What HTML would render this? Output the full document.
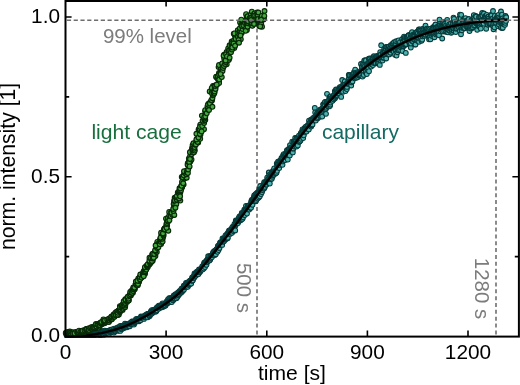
<!DOCTYPE html>
<html><head><meta charset="utf-8"><style>
html,body{margin:0;padding:0;background:#fff;}
body{width:520px;height:385px;overflow:hidden;}
svg{display:block;}
text{font-family:"Liberation Sans",Arial,sans-serif;}
</style></head><body>
<svg width="520" height="385" viewBox="0 0 520 385">
<rect width="520" height="385" fill="#fff"/>
<g stroke="#6e6e6e" stroke-width="1.6" stroke-dasharray="4 2.86" fill="none">
<path d="M257 28.6V336"/>
<path d="M496 28.6V336"/>
</g>
<g fill="#4cb5b2" stroke="#063a3a" stroke-width="1.05"><circle cx="66.5" cy="335" r="2.4"/><circle cx="66.8" cy="335" r="2.4"/><circle cx="67" cy="335" r="2.4"/><circle cx="67.2" cy="335" r="2.4"/><circle cx="67.5" cy="335" r="2.4"/><circle cx="67.8" cy="335" r="2.4"/><circle cx="68" cy="335" r="2.4"/><circle cx="68.2" cy="335" r="2.4"/><circle cx="68.5" cy="335" r="2.4"/><circle cx="68.8" cy="335" r="2.4"/><circle cx="69" cy="334.8" r="2.4"/><circle cx="69.2" cy="335" r="2.4"/><circle cx="69.5" cy="335" r="2.4"/><circle cx="69.8" cy="335" r="2.4"/><circle cx="70" cy="335" r="2.4"/><circle cx="70.2" cy="335" r="2.4"/><circle cx="70.5" cy="335" r="2.4"/><circle cx="70.8" cy="335" r="2.4"/><circle cx="71" cy="335" r="2.4"/><circle cx="71.2" cy="335" r="2.4"/><circle cx="71.5" cy="335" r="2.4"/><circle cx="71.8" cy="335" r="2.4"/><circle cx="72" cy="335" r="2.4"/><circle cx="72.2" cy="335" r="2.4"/><circle cx="72.5" cy="335" r="2.4"/><circle cx="72.8" cy="335" r="2.4"/><circle cx="73" cy="335" r="2.4"/><circle cx="73.2" cy="335" r="2.4"/><circle cx="73.5" cy="334.9" r="2.4"/><circle cx="73.8" cy="335" r="2.4"/><circle cx="74" cy="335" r="2.4"/><circle cx="74.2" cy="334.4" r="2.4"/><circle cx="74.5" cy="334.9" r="2.4"/><circle cx="74.8" cy="334.6" r="2.4"/><circle cx="75" cy="335" r="2.4"/><circle cx="75.2" cy="335" r="2.4"/><circle cx="75.5" cy="335" r="2.4"/><circle cx="75.8" cy="334.7" r="2.4"/><circle cx="76" cy="335" r="2.4"/><circle cx="76.2" cy="335" r="2.4"/><circle cx="76.5" cy="335" r="2.4"/><circle cx="76.8" cy="335" r="2.4"/><circle cx="77" cy="335" r="2.4"/><circle cx="77.2" cy="335" r="2.4"/><circle cx="77.5" cy="334.9" r="2.4"/><circle cx="77.8" cy="334.7" r="2.4"/><circle cx="78" cy="335" r="2.4"/><circle cx="78.2" cy="335" r="2.4"/><circle cx="78.5" cy="334.6" r="2.4"/><circle cx="78.8" cy="335" r="2.4"/><circle cx="79" cy="335" r="2.4"/><circle cx="79.2" cy="335" r="2.4"/><circle cx="79.5" cy="335" r="2.4"/><circle cx="79.8" cy="335" r="2.4"/><circle cx="80" cy="335" r="2.4"/><circle cx="80.2" cy="334.2" r="2.4"/><circle cx="80.5" cy="335" r="2.4"/><circle cx="80.8" cy="335" r="2.4"/><circle cx="81" cy="335" r="2.4"/><circle cx="81.2" cy="333.8" r="2.4"/><circle cx="81.5" cy="335" r="2.4"/><circle cx="81.8" cy="335" r="2.4"/><circle cx="82" cy="335" r="2.4"/><circle cx="82.2" cy="333.6" r="2.4"/><circle cx="82.5" cy="335" r="2.4"/><circle cx="82.8" cy="334.6" r="2.4"/><circle cx="83" cy="335" r="2.4"/><circle cx="83.2" cy="335" r="2.4"/><circle cx="83.5" cy="335" r="2.4"/><circle cx="83.8" cy="335" r="2.4"/><circle cx="84" cy="334.4" r="2.4"/><circle cx="84.2" cy="335" r="2.4"/><circle cx="84.5" cy="334.8" r="2.4"/><circle cx="84.8" cy="333.1" r="2.4"/><circle cx="85" cy="335" r="2.4"/><circle cx="85.2" cy="335" r="2.4"/><circle cx="85.5" cy="335" r="2.4"/><circle cx="85.8" cy="334.5" r="2.4"/><circle cx="86" cy="335" r="2.4"/><circle cx="86.2" cy="335" r="2.4"/><circle cx="86.5" cy="335" r="2.4"/><circle cx="86.8" cy="335" r="2.4"/><circle cx="87" cy="334.1" r="2.4"/><circle cx="87.2" cy="335" r="2.4"/><circle cx="87.5" cy="333.1" r="2.4"/><circle cx="87.8" cy="333.6" r="2.4"/><circle cx="88" cy="335" r="2.4"/><circle cx="88.2" cy="334.2" r="2.4"/><circle cx="88.5" cy="334.9" r="2.4"/><circle cx="88.8" cy="334.9" r="2.4"/><circle cx="89" cy="335" r="2.4"/><circle cx="89.2" cy="335" r="2.4"/><circle cx="89.5" cy="334.9" r="2.4"/><circle cx="89.8" cy="335" r="2.4"/><circle cx="90" cy="334.2" r="2.4"/><circle cx="90.2" cy="334.5" r="2.4"/><circle cx="90.5" cy="335" r="2.4"/><circle cx="90.8" cy="333.6" r="2.4"/><circle cx="91" cy="334.5" r="2.4"/><circle cx="91.2" cy="333.5" r="2.4"/><circle cx="91.5" cy="334.8" r="2.4"/><circle cx="91.8" cy="335" r="2.4"/><circle cx="92" cy="333.9" r="2.4"/><circle cx="92.2" cy="334.8" r="2.4"/><circle cx="92.5" cy="333.7" r="2.4"/><circle cx="92.8" cy="333.5" r="2.4"/><circle cx="93" cy="333.3" r="2.4"/><circle cx="93.2" cy="335" r="2.4"/><circle cx="93.5" cy="335" r="2.4"/><circle cx="93.8" cy="334.8" r="2.4"/><circle cx="94" cy="333.7" r="2.4"/><circle cx="94.2" cy="335" r="2.4"/><circle cx="94.5" cy="334" r="2.4"/><circle cx="94.8" cy="335" r="2.4"/><circle cx="95" cy="334.5" r="2.4"/><circle cx="95.2" cy="334.4" r="2.4"/><circle cx="95.5" cy="334.7" r="2.4"/><circle cx="95.8" cy="333.5" r="2.4"/><circle cx="96" cy="333.7" r="2.4"/><circle cx="96.2" cy="332.4" r="2.4"/><circle cx="96.5" cy="333.6" r="2.4"/><circle cx="96.8" cy="332.6" r="2.4"/><circle cx="97" cy="333.7" r="2.4"/><circle cx="97.2" cy="332.9" r="2.4"/><circle cx="97.5" cy="333.9" r="2.4"/><circle cx="97.8" cy="334.2" r="2.4"/><circle cx="98" cy="332.4" r="2.4"/><circle cx="98.2" cy="332.9" r="2.4"/><circle cx="98.5" cy="332.7" r="2.4"/><circle cx="98.8" cy="334.3" r="2.4"/><circle cx="99" cy="335" r="2.4"/><circle cx="99.2" cy="334.3" r="2.4"/><circle cx="99.5" cy="333.1" r="2.4"/><circle cx="99.8" cy="334.8" r="2.4"/><circle cx="100" cy="331.9" r="2.4"/><circle cx="100.2" cy="334.7" r="2.4"/><circle cx="100.5" cy="332.6" r="2.4"/><circle cx="100.8" cy="330.6" r="2.4"/><circle cx="101" cy="335" r="2.4"/><circle cx="101.2" cy="334.6" r="2.4"/><circle cx="101.5" cy="332.1" r="2.4"/><circle cx="101.8" cy="333.2" r="2.4"/><circle cx="102" cy="332.8" r="2.4"/><circle cx="102.2" cy="333" r="2.4"/><circle cx="102.5" cy="331.5" r="2.4"/><circle cx="102.8" cy="332.2" r="2.4"/><circle cx="103" cy="333.2" r="2.4"/><circle cx="103.2" cy="332.9" r="2.4"/><circle cx="103.5" cy="333.8" r="2.4"/><circle cx="103.8" cy="332.7" r="2.4"/><circle cx="104" cy="334.7" r="2.4"/><circle cx="104.2" cy="331.8" r="2.4"/><circle cx="104.5" cy="332.7" r="2.4"/><circle cx="104.8" cy="330.6" r="2.4"/><circle cx="105" cy="331.1" r="2.4"/><circle cx="105.2" cy="333.5" r="2.4"/><circle cx="105.5" cy="331.3" r="2.4"/><circle cx="105.8" cy="332.7" r="2.4"/><circle cx="106" cy="332" r="2.4"/><circle cx="106.2" cy="331.1" r="2.4"/><circle cx="106.5" cy="331.7" r="2.4"/><circle cx="106.8" cy="331.4" r="2.4"/><circle cx="107" cy="331.4" r="2.4"/><circle cx="107.2" cy="332.5" r="2.4"/><circle cx="107.5" cy="332.4" r="2.4"/><circle cx="107.8" cy="331.1" r="2.4"/><circle cx="108" cy="330.8" r="2.4"/><circle cx="108.2" cy="331.8" r="2.4"/><circle cx="108.5" cy="331.4" r="2.4"/><circle cx="108.8" cy="332.4" r="2.4"/><circle cx="109" cy="333.9" r="2.4"/><circle cx="109.2" cy="332.1" r="2.4"/><circle cx="109.5" cy="331.2" r="2.4"/><circle cx="109.8" cy="331" r="2.4"/><circle cx="110" cy="330.3" r="2.4"/><circle cx="110.2" cy="330.2" r="2.4"/><circle cx="110.5" cy="330" r="2.4"/><circle cx="110.8" cy="330.5" r="2.4"/><circle cx="111" cy="330.4" r="2.4"/><circle cx="111.2" cy="331.5" r="2.4"/><circle cx="111.5" cy="330.3" r="2.4"/><circle cx="111.8" cy="330.4" r="2.4"/><circle cx="112" cy="329.4" r="2.4"/><circle cx="112.2" cy="332.1" r="2.4"/><circle cx="112.5" cy="330.9" r="2.4"/><circle cx="112.8" cy="332.1" r="2.4"/><circle cx="113" cy="331" r="2.4"/><circle cx="113.2" cy="331.6" r="2.4"/><circle cx="113.5" cy="329.9" r="2.4"/><circle cx="113.8" cy="330.7" r="2.4"/><circle cx="114" cy="332.6" r="2.4"/><circle cx="114.2" cy="328.7" r="2.4"/><circle cx="114.5" cy="331" r="2.4"/><circle cx="114.8" cy="331.4" r="2.4"/><circle cx="115" cy="330.1" r="2.4"/><circle cx="115.2" cy="330.3" r="2.4"/><circle cx="115.5" cy="330.8" r="2.4"/><circle cx="115.8" cy="328.8" r="2.4"/><circle cx="116" cy="329.8" r="2.4"/><circle cx="116.2" cy="328.4" r="2.4"/><circle cx="116.5" cy="328.5" r="2.4"/><circle cx="116.8" cy="328.5" r="2.4"/><circle cx="117" cy="328.9" r="2.4"/><circle cx="117.2" cy="329.1" r="2.4"/><circle cx="117.5" cy="329.3" r="2.4"/><circle cx="117.8" cy="327.4" r="2.4"/><circle cx="118" cy="330.7" r="2.4"/><circle cx="118.2" cy="329.8" r="2.4"/><circle cx="118.5" cy="329.3" r="2.4"/><circle cx="118.8" cy="328.1" r="2.4"/><circle cx="119" cy="328.3" r="2.4"/><circle cx="119.2" cy="328.9" r="2.4"/><circle cx="119.5" cy="328.6" r="2.4"/><circle cx="119.8" cy="326.5" r="2.4"/><circle cx="120" cy="328.8" r="2.4"/><circle cx="120.2" cy="330.9" r="2.4"/><circle cx="120.5" cy="326" r="2.4"/><circle cx="120.8" cy="328.8" r="2.4"/><circle cx="121" cy="328.1" r="2.4"/><circle cx="121.2" cy="327.5" r="2.4"/><circle cx="121.5" cy="328.9" r="2.4"/><circle cx="121.8" cy="326.2" r="2.4"/><circle cx="122" cy="327.5" r="2.4"/><circle cx="122.2" cy="328.7" r="2.4"/><circle cx="122.5" cy="326.9" r="2.4"/><circle cx="122.8" cy="326.6" r="2.4"/><circle cx="123" cy="327.1" r="2.4"/><circle cx="123.2" cy="326.4" r="2.4"/><circle cx="123.5" cy="328.3" r="2.4"/><circle cx="123.8" cy="325.8" r="2.4"/><circle cx="124" cy="327.5" r="2.4"/><circle cx="124.2" cy="325.2" r="2.4"/><circle cx="124.5" cy="327.1" r="2.4"/><circle cx="124.8" cy="326.2" r="2.4"/><circle cx="125" cy="323.6" r="2.4"/><circle cx="125.2" cy="326.1" r="2.4"/><circle cx="125.5" cy="324.9" r="2.4"/><circle cx="125.8" cy="325.4" r="2.4"/><circle cx="126" cy="327.4" r="2.4"/><circle cx="126.2" cy="324.5" r="2.4"/><circle cx="126.5" cy="324.5" r="2.4"/><circle cx="126.8" cy="327" r="2.4"/><circle cx="127" cy="325.5" r="2.4"/><circle cx="127.2" cy="326.9" r="2.4"/><circle cx="127.5" cy="325.5" r="2.4"/><circle cx="127.8" cy="324.2" r="2.4"/><circle cx="128" cy="324.9" r="2.4"/><circle cx="128.2" cy="326.1" r="2.4"/><circle cx="128.5" cy="325.7" r="2.4"/><circle cx="128.8" cy="324.7" r="2.4"/><circle cx="129" cy="324.6" r="2.4"/><circle cx="129.2" cy="324.3" r="2.4"/><circle cx="129.5" cy="323.7" r="2.4"/><circle cx="129.8" cy="326.2" r="2.4"/><circle cx="130" cy="324.1" r="2.4"/><circle cx="130.2" cy="322.8" r="2.4"/><circle cx="130.5" cy="323.4" r="2.4"/><circle cx="130.8" cy="324.5" r="2.4"/><circle cx="131" cy="324.3" r="2.4"/><circle cx="131.2" cy="323.4" r="2.4"/><circle cx="131.5" cy="322.7" r="2.4"/><circle cx="131.8" cy="323.3" r="2.4"/><circle cx="132" cy="321.5" r="2.4"/><circle cx="132.2" cy="321.7" r="2.4"/><circle cx="132.5" cy="323.8" r="2.4"/><circle cx="132.8" cy="322.4" r="2.4"/><circle cx="133" cy="323.1" r="2.4"/><circle cx="133.2" cy="323.9" r="2.4"/><circle cx="133.5" cy="323.2" r="2.4"/><circle cx="133.8" cy="322.4" r="2.4"/><circle cx="134" cy="324.5" r="2.4"/><circle cx="134.2" cy="322.9" r="2.4"/><circle cx="134.5" cy="321.7" r="2.4"/><circle cx="134.8" cy="322.7" r="2.4"/><circle cx="135" cy="322.2" r="2.4"/><circle cx="135.2" cy="320.8" r="2.4"/><circle cx="135.5" cy="321.6" r="2.4"/><circle cx="135.8" cy="321.2" r="2.4"/><circle cx="136" cy="319.2" r="2.4"/><circle cx="136.2" cy="321" r="2.4"/><circle cx="136.5" cy="320.7" r="2.4"/><circle cx="136.8" cy="320.5" r="2.4"/><circle cx="137" cy="319" r="2.4"/><circle cx="137.2" cy="320.3" r="2.4"/><circle cx="137.5" cy="320.5" r="2.4"/><circle cx="137.8" cy="320.5" r="2.4"/><circle cx="138" cy="319.1" r="2.4"/><circle cx="138.2" cy="320.8" r="2.4"/><circle cx="138.5" cy="318.7" r="2.4"/><circle cx="138.8" cy="319.7" r="2.4"/><circle cx="139" cy="321.2" r="2.4"/><circle cx="139.2" cy="318.9" r="2.4"/><circle cx="139.5" cy="319" r="2.4"/><circle cx="139.8" cy="320.5" r="2.4"/><circle cx="140" cy="318.8" r="2.4"/><circle cx="140.2" cy="318.8" r="2.4"/><circle cx="140.5" cy="319.2" r="2.4"/><circle cx="140.8" cy="320" r="2.4"/><circle cx="141" cy="316.3" r="2.4"/><circle cx="141.2" cy="317.7" r="2.4"/><circle cx="141.5" cy="317.3" r="2.4"/><circle cx="141.8" cy="317.1" r="2.4"/><circle cx="142" cy="317.2" r="2.4"/><circle cx="142.2" cy="317.1" r="2.4"/><circle cx="142.5" cy="318.2" r="2.4"/><circle cx="142.8" cy="316.8" r="2.4"/><circle cx="143" cy="317.8" r="2.4"/><circle cx="143.2" cy="317.9" r="2.4"/><circle cx="143.5" cy="316.5" r="2.4"/><circle cx="143.8" cy="317.4" r="2.4"/><circle cx="144" cy="318.9" r="2.4"/><circle cx="144.2" cy="317.3" r="2.4"/><circle cx="144.5" cy="316.1" r="2.4"/><circle cx="144.8" cy="316.6" r="2.4"/><circle cx="145" cy="315.5" r="2.4"/><circle cx="145.2" cy="316.7" r="2.4"/><circle cx="145.5" cy="317.2" r="2.4"/><circle cx="145.8" cy="315.2" r="2.4"/><circle cx="146" cy="315.7" r="2.4"/><circle cx="146.2" cy="317" r="2.4"/><circle cx="146.5" cy="315.1" r="2.4"/><circle cx="146.8" cy="315.7" r="2.4"/><circle cx="147" cy="314.2" r="2.4"/><circle cx="147.2" cy="314.3" r="2.4"/><circle cx="147.5" cy="314.5" r="2.4"/><circle cx="147.8" cy="317.3" r="2.4"/><circle cx="148" cy="314.3" r="2.4"/><circle cx="148.2" cy="314" r="2.4"/><circle cx="148.5" cy="313.9" r="2.4"/><circle cx="148.8" cy="314.1" r="2.4"/><circle cx="149" cy="314.9" r="2.4"/><circle cx="149.2" cy="314.2" r="2.4"/><circle cx="149.5" cy="316.2" r="2.4"/><circle cx="149.8" cy="314" r="2.4"/><circle cx="150" cy="315.2" r="2.4"/><circle cx="150.2" cy="313.7" r="2.4"/><circle cx="150.5" cy="314" r="2.4"/><circle cx="150.8" cy="311.5" r="2.4"/><circle cx="151" cy="312.8" r="2.4"/><circle cx="151.2" cy="312.8" r="2.4"/><circle cx="151.5" cy="312.4" r="2.4"/><circle cx="151.8" cy="310.1" r="2.4"/><circle cx="152" cy="313.4" r="2.4"/><circle cx="152.2" cy="311.8" r="2.4"/><circle cx="152.5" cy="311.6" r="2.4"/><circle cx="152.8" cy="311.6" r="2.4"/><circle cx="153" cy="311.5" r="2.4"/><circle cx="153.2" cy="312.1" r="2.4"/><circle cx="153.5" cy="310" r="2.4"/><circle cx="153.8" cy="310.3" r="2.4"/><circle cx="154" cy="311.5" r="2.4"/><circle cx="154.2" cy="311.2" r="2.4"/><circle cx="154.5" cy="310.4" r="2.4"/><circle cx="154.8" cy="310" r="2.4"/><circle cx="155" cy="309.6" r="2.4"/><circle cx="155.2" cy="310.3" r="2.4"/><circle cx="155.5" cy="311.6" r="2.4"/><circle cx="155.8" cy="308.9" r="2.4"/><circle cx="156" cy="311.6" r="2.4"/><circle cx="156.2" cy="310.7" r="2.4"/><circle cx="156.5" cy="309.1" r="2.4"/><circle cx="156.8" cy="310.3" r="2.4"/><circle cx="157" cy="307.6" r="2.4"/><circle cx="157.2" cy="307.1" r="2.4"/><circle cx="157.5" cy="307.5" r="2.4"/><circle cx="157.8" cy="308.3" r="2.4"/><circle cx="158" cy="308.3" r="2.4"/><circle cx="158.2" cy="307.9" r="2.4"/><circle cx="158.5" cy="308.4" r="2.4"/><circle cx="158.8" cy="305.7" r="2.4"/><circle cx="159" cy="308.6" r="2.4"/><circle cx="159.2" cy="306.2" r="2.4"/><circle cx="159.5" cy="306.9" r="2.4"/><circle cx="159.8" cy="307" r="2.4"/><circle cx="160" cy="306" r="2.4"/><circle cx="160.2" cy="305.6" r="2.4"/><circle cx="160.5" cy="305.9" r="2.4"/><circle cx="160.8" cy="306.9" r="2.4"/><circle cx="161" cy="307.4" r="2.4"/><circle cx="161.2" cy="307.2" r="2.4"/><circle cx="161.5" cy="305.2" r="2.4"/><circle cx="161.8" cy="305.3" r="2.4"/><circle cx="162" cy="305" r="2.4"/><circle cx="162.2" cy="306.4" r="2.4"/><circle cx="162.5" cy="303.3" r="2.4"/><circle cx="162.8" cy="307" r="2.4"/><circle cx="163" cy="304.8" r="2.4"/><circle cx="163.2" cy="304.3" r="2.4"/><circle cx="163.5" cy="305.5" r="2.4"/><circle cx="163.8" cy="306.1" r="2.4"/><circle cx="164" cy="305.1" r="2.4"/><circle cx="164.2" cy="305.8" r="2.4"/><circle cx="164.5" cy="304.6" r="2.4"/><circle cx="164.8" cy="305.7" r="2.4"/><circle cx="165" cy="305.5" r="2.4"/><circle cx="165.2" cy="303.8" r="2.4"/><circle cx="165.5" cy="305.4" r="2.4"/><circle cx="165.8" cy="303.7" r="2.4"/><circle cx="166" cy="303.5" r="2.4"/><circle cx="166.2" cy="302.1" r="2.4"/><circle cx="166.5" cy="302.7" r="2.4"/><circle cx="166.8" cy="303.8" r="2.4"/><circle cx="167" cy="301.1" r="2.4"/><circle cx="167.2" cy="303.3" r="2.4"/><circle cx="167.5" cy="302.7" r="2.4"/><circle cx="167.8" cy="302.5" r="2.4"/><circle cx="168" cy="299.3" r="2.4"/><circle cx="168.2" cy="301.7" r="2.4"/><circle cx="168.5" cy="302.4" r="2.4"/><circle cx="168.8" cy="300.5" r="2.4"/><circle cx="169" cy="301.4" r="2.4"/><circle cx="169.2" cy="298.2" r="2.4"/><circle cx="169.5" cy="301.7" r="2.4"/><circle cx="169.8" cy="299.9" r="2.4"/><circle cx="170" cy="301.6" r="2.4"/><circle cx="170.2" cy="298.1" r="2.4"/><circle cx="170.5" cy="301" r="2.4"/><circle cx="170.8" cy="299.7" r="2.4"/><circle cx="171" cy="300.8" r="2.4"/><circle cx="171.2" cy="298.4" r="2.4"/><circle cx="171.5" cy="298.6" r="2.4"/><circle cx="171.8" cy="302" r="2.4"/><circle cx="172" cy="298" r="2.4"/><circle cx="172.2" cy="297.9" r="2.4"/><circle cx="172.5" cy="298.3" r="2.4"/><circle cx="172.8" cy="297.1" r="2.4"/><circle cx="173" cy="299.7" r="2.4"/><circle cx="173.2" cy="300.2" r="2.4"/><circle cx="173.5" cy="296.9" r="2.4"/><circle cx="173.8" cy="295.5" r="2.4"/><circle cx="174" cy="298.9" r="2.4"/><circle cx="174.2" cy="298.6" r="2.4"/><circle cx="174.5" cy="298" r="2.4"/><circle cx="174.8" cy="298.3" r="2.4"/><circle cx="175" cy="295.5" r="2.4"/><circle cx="175.2" cy="296.2" r="2.4"/><circle cx="175.5" cy="294.4" r="2.4"/><circle cx="175.8" cy="294.2" r="2.4"/><circle cx="176" cy="297" r="2.4"/><circle cx="176.2" cy="294.7" r="2.4"/><circle cx="176.5" cy="298.2" r="2.4"/><circle cx="176.8" cy="295.2" r="2.4"/><circle cx="177" cy="294.1" r="2.4"/><circle cx="177.2" cy="295.7" r="2.4"/><circle cx="177.5" cy="296.8" r="2.4"/><circle cx="177.8" cy="294.9" r="2.4"/><circle cx="178" cy="292.4" r="2.4"/><circle cx="178.2" cy="294.3" r="2.4"/><circle cx="178.5" cy="295.3" r="2.4"/><circle cx="178.8" cy="292.7" r="2.4"/><circle cx="179" cy="292.1" r="2.4"/><circle cx="179.2" cy="294.2" r="2.4"/><circle cx="179.5" cy="292.8" r="2.4"/><circle cx="179.8" cy="291" r="2.4"/><circle cx="180" cy="291.7" r="2.4"/><circle cx="180.2" cy="291" r="2.4"/><circle cx="180.5" cy="292.1" r="2.4"/><circle cx="180.8" cy="291.6" r="2.4"/><circle cx="181" cy="292.7" r="2.4"/><circle cx="181.2" cy="291.9" r="2.4"/><circle cx="181.5" cy="288.7" r="2.4"/><circle cx="181.8" cy="291" r="2.4"/><circle cx="182" cy="291.4" r="2.4"/><circle cx="182.2" cy="290.6" r="2.4"/><circle cx="182.5" cy="291.1" r="2.4"/><circle cx="182.8" cy="288.8" r="2.4"/><circle cx="183" cy="288" r="2.4"/><circle cx="183.2" cy="290.2" r="2.4"/><circle cx="183.5" cy="287.3" r="2.4"/><circle cx="183.8" cy="285.6" r="2.4"/><circle cx="184" cy="289.6" r="2.4"/><circle cx="184.2" cy="287" r="2.4"/><circle cx="184.5" cy="287.3" r="2.4"/><circle cx="184.8" cy="285.6" r="2.4"/><circle cx="185" cy="285.4" r="2.4"/><circle cx="185.2" cy="285.4" r="2.4"/><circle cx="185.5" cy="286.2" r="2.4"/><circle cx="185.8" cy="286.9" r="2.4"/><circle cx="186" cy="283" r="2.4"/><circle cx="186.2" cy="286.9" r="2.4"/><circle cx="186.5" cy="284" r="2.4"/><circle cx="186.8" cy="283.9" r="2.4"/><circle cx="187" cy="286" r="2.4"/><circle cx="187.2" cy="284.7" r="2.4"/><circle cx="187.5" cy="282.4" r="2.4"/><circle cx="187.8" cy="286.8" r="2.4"/><circle cx="188" cy="282.8" r="2.4"/><circle cx="188.2" cy="284" r="2.4"/><circle cx="188.5" cy="283.7" r="2.4"/><circle cx="188.8" cy="285.1" r="2.4"/><circle cx="189" cy="282.2" r="2.4"/><circle cx="189.2" cy="284" r="2.4"/><circle cx="189.5" cy="281.3" r="2.4"/><circle cx="189.8" cy="283.6" r="2.4"/><circle cx="190" cy="280.7" r="2.4"/><circle cx="190.2" cy="280.9" r="2.4"/><circle cx="190.5" cy="283.8" r="2.4"/><circle cx="190.8" cy="281.3" r="2.4"/><circle cx="191" cy="280.7" r="2.4"/><circle cx="191.2" cy="283.5" r="2.4"/><circle cx="191.5" cy="280.5" r="2.4"/><circle cx="191.8" cy="278.6" r="2.4"/><circle cx="192" cy="280.5" r="2.4"/><circle cx="192.2" cy="277.5" r="2.4"/><circle cx="192.5" cy="280.5" r="2.4"/><circle cx="192.8" cy="280.3" r="2.4"/><circle cx="193" cy="277.4" r="2.4"/><circle cx="193.2" cy="277.1" r="2.4"/><circle cx="193.5" cy="277.9" r="2.4"/><circle cx="193.8" cy="277.4" r="2.4"/><circle cx="194" cy="275.7" r="2.4"/><circle cx="194.2" cy="277.6" r="2.4"/><circle cx="194.5" cy="273.5" r="2.4"/><circle cx="194.8" cy="275.6" r="2.4"/><circle cx="195" cy="275.3" r="2.4"/><circle cx="195.2" cy="275.2" r="2.4"/><circle cx="195.5" cy="275.8" r="2.4"/><circle cx="195.8" cy="273.2" r="2.4"/><circle cx="196" cy="275.6" r="2.4"/><circle cx="196.2" cy="274.2" r="2.4"/><circle cx="196.5" cy="273.2" r="2.4"/><circle cx="196.8" cy="271.8" r="2.4"/><circle cx="197" cy="271.8" r="2.4"/><circle cx="197.2" cy="273.7" r="2.4"/><circle cx="197.5" cy="271.5" r="2.4"/><circle cx="197.8" cy="272.7" r="2.4"/><circle cx="198" cy="273.9" r="2.4"/><circle cx="198.2" cy="273.5" r="2.4"/><circle cx="198.5" cy="274" r="2.4"/><circle cx="198.8" cy="271" r="2.4"/><circle cx="199" cy="269.5" r="2.4"/><circle cx="199.2" cy="272.3" r="2.4"/><circle cx="199.5" cy="271" r="2.4"/><circle cx="199.8" cy="271.9" r="2.4"/><circle cx="200" cy="269.9" r="2.4"/><circle cx="200.2" cy="271.4" r="2.4"/><circle cx="200.5" cy="270.6" r="2.4"/><circle cx="200.8" cy="270.1" r="2.4"/><circle cx="201" cy="269.4" r="2.4"/><circle cx="201.2" cy="269" r="2.4"/><circle cx="201.5" cy="268.4" r="2.4"/><circle cx="201.8" cy="268.1" r="2.4"/><circle cx="202" cy="269" r="2.4"/><circle cx="202.2" cy="266.4" r="2.4"/><circle cx="202.5" cy="269.5" r="2.4"/><circle cx="202.8" cy="266.4" r="2.4"/><circle cx="203" cy="267.7" r="2.4"/><circle cx="203.2" cy="265.8" r="2.4"/><circle cx="203.5" cy="265.2" r="2.4"/><circle cx="203.8" cy="268.5" r="2.4"/><circle cx="204" cy="264.5" r="2.4"/><circle cx="204.2" cy="262.7" r="2.4"/><circle cx="204.5" cy="263.3" r="2.4"/><circle cx="204.8" cy="263.6" r="2.4"/><circle cx="205" cy="267.1" r="2.4"/><circle cx="205.2" cy="263.8" r="2.4"/><circle cx="205.5" cy="264.6" r="2.4"/><circle cx="205.8" cy="261.3" r="2.4"/><circle cx="206" cy="263.1" r="2.4"/><circle cx="206.2" cy="263.3" r="2.4"/><circle cx="206.5" cy="264.8" r="2.4"/><circle cx="206.8" cy="260.5" r="2.4"/><circle cx="207" cy="262.3" r="2.4"/><circle cx="207.2" cy="261.5" r="2.4"/><circle cx="207.5" cy="259.1" r="2.4"/><circle cx="207.8" cy="260.4" r="2.4"/><circle cx="208" cy="259.7" r="2.4"/><circle cx="208.2" cy="256.1" r="2.4"/><circle cx="208.5" cy="260.4" r="2.4"/><circle cx="208.8" cy="260" r="2.4"/><circle cx="209" cy="258.2" r="2.4"/><circle cx="209.2" cy="256.4" r="2.4"/><circle cx="209.5" cy="260.6" r="2.4"/><circle cx="209.8" cy="258.4" r="2.4"/><circle cx="210" cy="259.3" r="2.4"/><circle cx="210.2" cy="259.6" r="2.4"/><circle cx="210.5" cy="256.2" r="2.4"/><circle cx="210.8" cy="258" r="2.4"/><circle cx="211" cy="256" r="2.4"/><circle cx="211.2" cy="256" r="2.4"/><circle cx="211.5" cy="255.6" r="2.4"/><circle cx="211.8" cy="255.5" r="2.4"/><circle cx="212" cy="257" r="2.4"/><circle cx="212.2" cy="255" r="2.4"/><circle cx="212.5" cy="254.3" r="2.4"/><circle cx="212.8" cy="253.8" r="2.4"/><circle cx="213" cy="254.5" r="2.4"/><circle cx="213.2" cy="252.1" r="2.4"/><circle cx="213.5" cy="252.5" r="2.4"/><circle cx="213.8" cy="252.9" r="2.4"/><circle cx="214" cy="251.7" r="2.4"/><circle cx="214.2" cy="252.2" r="2.4"/><circle cx="214.5" cy="251" r="2.4"/><circle cx="214.8" cy="255.1" r="2.4"/><circle cx="215" cy="253.6" r="2.4"/><circle cx="215.2" cy="251.9" r="2.4"/><circle cx="215.5" cy="250.7" r="2.4"/><circle cx="215.8" cy="254.2" r="2.4"/><circle cx="216" cy="250.7" r="2.4"/><circle cx="216.2" cy="249.7" r="2.4"/><circle cx="216.5" cy="250" r="2.4"/><circle cx="216.8" cy="249.7" r="2.4"/><circle cx="217" cy="251.3" r="2.4"/><circle cx="217.2" cy="248.6" r="2.4"/><circle cx="217.5" cy="251.8" r="2.4"/><circle cx="217.8" cy="246.5" r="2.4"/><circle cx="218" cy="248.8" r="2.4"/><circle cx="218.2" cy="245.6" r="2.4"/><circle cx="218.5" cy="250.1" r="2.4"/><circle cx="218.8" cy="246.1" r="2.4"/><circle cx="219" cy="246.3" r="2.4"/><circle cx="219.2" cy="247.7" r="2.4"/><circle cx="219.5" cy="247.9" r="2.4"/><circle cx="219.8" cy="243.5" r="2.4"/><circle cx="220" cy="244.5" r="2.4"/><circle cx="220.2" cy="242.4" r="2.4"/><circle cx="220.5" cy="244.7" r="2.4"/><circle cx="220.8" cy="244" r="2.4"/><circle cx="221" cy="243.2" r="2.4"/><circle cx="221.2" cy="242.3" r="2.4"/><circle cx="221.5" cy="242.5" r="2.4"/><circle cx="221.8" cy="241.6" r="2.4"/><circle cx="222" cy="243.5" r="2.4"/><circle cx="222.2" cy="244.9" r="2.4"/><circle cx="222.5" cy="238.5" r="2.4"/><circle cx="222.8" cy="241.4" r="2.4"/><circle cx="223" cy="240.5" r="2.4"/><circle cx="223.2" cy="241.8" r="2.4"/><circle cx="223.5" cy="239" r="2.4"/><circle cx="223.8" cy="240.1" r="2.4"/><circle cx="224" cy="238.1" r="2.4"/><circle cx="224.2" cy="240.9" r="2.4"/><circle cx="224.5" cy="239.5" r="2.4"/><circle cx="224.8" cy="238.7" r="2.4"/><circle cx="225" cy="239.4" r="2.4"/><circle cx="225.2" cy="237.9" r="2.4"/><circle cx="225.5" cy="235.3" r="2.4"/><circle cx="225.8" cy="238.8" r="2.4"/><circle cx="226" cy="237.9" r="2.4"/><circle cx="226.2" cy="236.8" r="2.4"/><circle cx="226.5" cy="238.5" r="2.4"/><circle cx="226.8" cy="238.6" r="2.4"/><circle cx="227" cy="234.1" r="2.4"/><circle cx="227.2" cy="234.4" r="2.4"/><circle cx="227.5" cy="238.3" r="2.4"/><circle cx="227.8" cy="237.7" r="2.4"/><circle cx="228" cy="233.5" r="2.4"/><circle cx="228.2" cy="232.3" r="2.4"/><circle cx="228.5" cy="233" r="2.4"/><circle cx="228.8" cy="232.9" r="2.4"/><circle cx="229" cy="230.6" r="2.4"/><circle cx="229.2" cy="233.2" r="2.4"/><circle cx="229.5" cy="230.5" r="2.4"/><circle cx="229.8" cy="230.3" r="2.4"/><circle cx="230" cy="233.9" r="2.4"/><circle cx="230.2" cy="230.6" r="2.4"/><circle cx="230.5" cy="231.4" r="2.4"/><circle cx="230.8" cy="232.4" r="2.4"/><circle cx="231" cy="232.4" r="2.4"/><circle cx="231.2" cy="229.9" r="2.4"/><circle cx="231.5" cy="230.3" r="2.4"/><circle cx="231.8" cy="228.3" r="2.4"/><circle cx="232" cy="232.8" r="2.4"/><circle cx="232.2" cy="230.4" r="2.4"/><circle cx="232.5" cy="226.8" r="2.4"/><circle cx="232.8" cy="228.6" r="2.4"/><circle cx="233" cy="229.6" r="2.4"/><circle cx="233.2" cy="228.8" r="2.4"/><circle cx="233.5" cy="231" r="2.4"/><circle cx="233.8" cy="229.8" r="2.4"/><circle cx="234" cy="225.9" r="2.4"/><circle cx="234.2" cy="226.4" r="2.4"/><circle cx="234.5" cy="223.8" r="2.4"/><circle cx="234.8" cy="226.4" r="2.4"/><circle cx="235" cy="225.8" r="2.4"/><circle cx="235.2" cy="230.4" r="2.4"/><circle cx="235.5" cy="225.1" r="2.4"/><circle cx="235.8" cy="220.5" r="2.4"/><circle cx="236" cy="222.9" r="2.4"/><circle cx="236.2" cy="224.1" r="2.4"/><circle cx="236.5" cy="221.1" r="2.4"/><circle cx="236.8" cy="221.5" r="2.4"/><circle cx="237" cy="222.2" r="2.4"/><circle cx="237.2" cy="223.2" r="2.4"/><circle cx="237.5" cy="221.9" r="2.4"/><circle cx="237.8" cy="220.1" r="2.4"/><circle cx="238" cy="223.1" r="2.4"/><circle cx="238.2" cy="220.1" r="2.4"/><circle cx="238.5" cy="219.9" r="2.4"/><circle cx="238.8" cy="217.8" r="2.4"/><circle cx="239" cy="218.6" r="2.4"/><circle cx="239.2" cy="221.1" r="2.4"/><circle cx="239.5" cy="216.3" r="2.4"/><circle cx="239.8" cy="219" r="2.4"/><circle cx="240" cy="220.2" r="2.4"/><circle cx="240.2" cy="217.7" r="2.4"/><circle cx="240.5" cy="218.6" r="2.4"/><circle cx="240.8" cy="215.6" r="2.4"/><circle cx="241" cy="220.1" r="2.4"/><circle cx="241.2" cy="219.3" r="2.4"/><circle cx="241.5" cy="217.3" r="2.4"/><circle cx="241.8" cy="213" r="2.4"/><circle cx="242" cy="214" r="2.4"/><circle cx="242.2" cy="217.7" r="2.4"/><circle cx="242.5" cy="218.8" r="2.4"/><circle cx="242.8" cy="215.7" r="2.4"/><circle cx="243" cy="217.2" r="2.4"/><circle cx="243.2" cy="213.2" r="2.4"/><circle cx="243.5" cy="213.7" r="2.4"/><circle cx="243.8" cy="213.7" r="2.4"/><circle cx="244" cy="214.2" r="2.4"/><circle cx="244.2" cy="209.9" r="2.4"/><circle cx="244.5" cy="214.6" r="2.4"/><circle cx="244.8" cy="215" r="2.4"/><circle cx="245" cy="209.7" r="2.4"/><circle cx="245.2" cy="208.9" r="2.4"/><circle cx="245.5" cy="212" r="2.4"/><circle cx="245.8" cy="209.6" r="2.4"/><circle cx="246" cy="205.8" r="2.4"/><circle cx="246.2" cy="211.9" r="2.4"/><circle cx="246.5" cy="210.3" r="2.4"/><circle cx="246.8" cy="208.6" r="2.4"/><circle cx="247" cy="213.6" r="2.4"/><circle cx="247.2" cy="209.2" r="2.4"/><circle cx="247.5" cy="207" r="2.4"/><circle cx="247.8" cy="208.4" r="2.4"/><circle cx="248" cy="205.7" r="2.4"/><circle cx="248.2" cy="206" r="2.4"/><circle cx="248.5" cy="208" r="2.4"/><circle cx="248.8" cy="205.7" r="2.4"/><circle cx="249" cy="205.6" r="2.4"/><circle cx="249.2" cy="209.6" r="2.4"/><circle cx="249.5" cy="207.6" r="2.4"/><circle cx="249.8" cy="207.2" r="2.4"/><circle cx="250" cy="206.2" r="2.4"/><circle cx="250.2" cy="205.8" r="2.4"/><circle cx="250.5" cy="207.5" r="2.4"/><circle cx="250.8" cy="204.1" r="2.4"/><circle cx="251" cy="207.7" r="2.4"/><circle cx="251.2" cy="201.4" r="2.4"/><circle cx="251.5" cy="202.5" r="2.4"/><circle cx="251.8" cy="199.8" r="2.4"/><circle cx="252" cy="201.6" r="2.4"/><circle cx="252.2" cy="203.1" r="2.4"/><circle cx="252.5" cy="204.8" r="2.4"/><circle cx="252.8" cy="199.9" r="2.4"/><circle cx="253" cy="201" r="2.4"/><circle cx="253.2" cy="199.9" r="2.4"/><circle cx="253.5" cy="198.7" r="2.4"/><circle cx="253.8" cy="197.4" r="2.4"/><circle cx="254" cy="199.7" r="2.4"/><circle cx="254.2" cy="195.5" r="2.4"/><circle cx="254.5" cy="199.1" r="2.4"/><circle cx="254.8" cy="198.6" r="2.4"/><circle cx="255" cy="196.8" r="2.4"/><circle cx="255.2" cy="195.7" r="2.4"/><circle cx="255.5" cy="194.5" r="2.4"/><circle cx="255.8" cy="201.2" r="2.4"/><circle cx="256" cy="193.9" r="2.4"/><circle cx="256.2" cy="199.9" r="2.4"/><circle cx="256.5" cy="197.4" r="2.4"/><circle cx="256.8" cy="195" r="2.4"/><circle cx="257" cy="192.9" r="2.4"/><circle cx="257.2" cy="197.4" r="2.4"/><circle cx="257.5" cy="198.5" r="2.4"/><circle cx="257.8" cy="192.3" r="2.4"/><circle cx="258" cy="193.4" r="2.4"/><circle cx="258.2" cy="196" r="2.4"/><circle cx="258.5" cy="194.1" r="2.4"/><circle cx="258.8" cy="197.4" r="2.4"/><circle cx="259" cy="191.4" r="2.4"/><circle cx="259.2" cy="193.5" r="2.4"/><circle cx="259.5" cy="189.2" r="2.4"/><circle cx="259.8" cy="196.3" r="2.4"/><circle cx="260" cy="189.6" r="2.4"/><circle cx="260.2" cy="186" r="2.4"/><circle cx="260.5" cy="190.3" r="2.4"/><circle cx="260.8" cy="189.9" r="2.4"/><circle cx="261" cy="194.1" r="2.4"/><circle cx="261.2" cy="188.8" r="2.4"/><circle cx="261.5" cy="189.1" r="2.4"/><circle cx="261.8" cy="190.2" r="2.4"/><circle cx="262" cy="192" r="2.4"/><circle cx="262.2" cy="188" r="2.4"/><circle cx="262.5" cy="190.1" r="2.4"/><circle cx="262.8" cy="188.6" r="2.4"/><circle cx="263" cy="186.4" r="2.4"/><circle cx="263.2" cy="186.9" r="2.4"/><circle cx="263.5" cy="186.5" r="2.4"/><circle cx="263.8" cy="184" r="2.4"/><circle cx="264" cy="188.5" r="2.4"/><circle cx="264.2" cy="182.2" r="2.4"/><circle cx="264.5" cy="187.7" r="2.4"/><circle cx="264.8" cy="186.8" r="2.4"/><circle cx="265" cy="184.1" r="2.4"/><circle cx="265.2" cy="182.2" r="2.4"/><circle cx="265.5" cy="183.1" r="2.4"/><circle cx="265.8" cy="184.3" r="2.4"/><circle cx="266" cy="184.6" r="2.4"/><circle cx="266.2" cy="183.2" r="2.4"/><circle cx="266.5" cy="184.5" r="2.4"/><circle cx="266.8" cy="180.6" r="2.4"/><circle cx="267" cy="182.1" r="2.4"/><circle cx="267.2" cy="177.6" r="2.4"/><circle cx="267.5" cy="182.6" r="2.4"/><circle cx="267.8" cy="180.8" r="2.4"/><circle cx="268" cy="179.2" r="2.4"/><circle cx="268.2" cy="182.5" r="2.4"/><circle cx="268.5" cy="181.1" r="2.4"/><circle cx="268.8" cy="172.5" r="2.4"/><circle cx="269" cy="178.8" r="2.4"/><circle cx="269.2" cy="175" r="2.4"/><circle cx="269.5" cy="180.6" r="2.4"/><circle cx="269.8" cy="183.5" r="2.4"/><circle cx="270" cy="176.1" r="2.4"/><circle cx="270.2" cy="177.2" r="2.4"/><circle cx="270.5" cy="176.1" r="2.4"/><circle cx="270.8" cy="177.1" r="2.4"/><circle cx="271" cy="177.5" r="2.4"/><circle cx="271.2" cy="178.7" r="2.4"/><circle cx="271.5" cy="172.9" r="2.4"/><circle cx="271.8" cy="178.7" r="2.4"/><circle cx="272" cy="172.4" r="2.4"/><circle cx="272.2" cy="174.9" r="2.4"/><circle cx="272.5" cy="176.7" r="2.4"/><circle cx="272.8" cy="175.2" r="2.4"/><circle cx="273" cy="171" r="2.4"/><circle cx="273.2" cy="171.2" r="2.4"/><circle cx="273.5" cy="171.4" r="2.4"/><circle cx="273.8" cy="172" r="2.4"/><circle cx="274" cy="174.6" r="2.4"/><circle cx="274.2" cy="168.4" r="2.4"/><circle cx="274.5" cy="172.3" r="2.4"/><circle cx="274.8" cy="172.3" r="2.4"/><circle cx="275" cy="171.8" r="2.4"/><circle cx="275.2" cy="171.2" r="2.4"/><circle cx="275.5" cy="173.4" r="2.4"/><circle cx="275.8" cy="170.6" r="2.4"/><circle cx="276" cy="171.1" r="2.4"/><circle cx="276.2" cy="170.1" r="2.4"/><circle cx="276.5" cy="172.7" r="2.4"/><circle cx="276.8" cy="163.4" r="2.4"/><circle cx="277" cy="170.8" r="2.4"/><circle cx="277.2" cy="166.7" r="2.4"/><circle cx="277.5" cy="166.3" r="2.4"/><circle cx="277.8" cy="164.3" r="2.4"/><circle cx="278" cy="161.7" r="2.4"/><circle cx="278.2" cy="165" r="2.4"/><circle cx="278.5" cy="163.9" r="2.4"/><circle cx="278.8" cy="166.5" r="2.4"/><circle cx="279" cy="161.3" r="2.4"/><circle cx="279.2" cy="168.1" r="2.4"/><circle cx="279.5" cy="164.9" r="2.4"/><circle cx="279.8" cy="163.3" r="2.4"/><circle cx="280" cy="161.8" r="2.4"/><circle cx="280.2" cy="161.3" r="2.4"/><circle cx="280.5" cy="160.1" r="2.4"/><circle cx="280.8" cy="161.2" r="2.4"/><circle cx="281" cy="162.2" r="2.4"/><circle cx="281.2" cy="161.4" r="2.4"/><circle cx="281.5" cy="158" r="2.4"/><circle cx="281.8" cy="160.5" r="2.4"/><circle cx="282" cy="158.6" r="2.4"/><circle cx="282.2" cy="160.9" r="2.4"/><circle cx="282.5" cy="164.8" r="2.4"/><circle cx="282.8" cy="161.4" r="2.4"/><circle cx="283" cy="158.7" r="2.4"/><circle cx="283.2" cy="155.1" r="2.4"/><circle cx="283.5" cy="155.2" r="2.4"/><circle cx="283.8" cy="154.2" r="2.4"/><circle cx="284" cy="159.9" r="2.4"/><circle cx="284.2" cy="155.9" r="2.4"/><circle cx="284.5" cy="157.6" r="2.4"/><circle cx="284.8" cy="155.5" r="2.4"/><circle cx="285" cy="157" r="2.4"/><circle cx="285.2" cy="160" r="2.4"/><circle cx="285.5" cy="154.3" r="2.4"/><circle cx="285.8" cy="154.9" r="2.4"/><circle cx="286" cy="153.4" r="2.4"/><circle cx="286.2" cy="157.3" r="2.4"/><circle cx="286.5" cy="152.1" r="2.4"/><circle cx="286.8" cy="151.5" r="2.4"/><circle cx="287" cy="150.5" r="2.4"/><circle cx="287.2" cy="150.1" r="2.4"/><circle cx="287.5" cy="154.6" r="2.4"/><circle cx="287.8" cy="159.6" r="2.4"/><circle cx="288" cy="150.2" r="2.4"/><circle cx="288.2" cy="154.8" r="2.4"/><circle cx="288.5" cy="152.7" r="2.4"/><circle cx="288.8" cy="148.9" r="2.4"/><circle cx="289" cy="150.7" r="2.4"/><circle cx="289.2" cy="150.4" r="2.4"/><circle cx="289.5" cy="148.9" r="2.4"/><circle cx="289.8" cy="155.4" r="2.4"/><circle cx="290" cy="145.1" r="2.4"/><circle cx="290.2" cy="150.7" r="2.4"/><circle cx="290.5" cy="150.2" r="2.4"/><circle cx="290.8" cy="147.5" r="2.4"/><circle cx="291" cy="149.1" r="2.4"/><circle cx="291.2" cy="150.7" r="2.4"/><circle cx="291.5" cy="148.4" r="2.4"/><circle cx="291.8" cy="148.8" r="2.4"/><circle cx="292" cy="149.2" r="2.4"/><circle cx="292.2" cy="141.7" r="2.4"/><circle cx="292.5" cy="150.6" r="2.4"/><circle cx="292.8" cy="152.4" r="2.4"/><circle cx="293" cy="148.6" r="2.4"/><circle cx="293.2" cy="148.4" r="2.4"/><circle cx="293.5" cy="141.7" r="2.4"/><circle cx="293.8" cy="144.7" r="2.4"/><circle cx="294" cy="142.6" r="2.4"/><circle cx="294.2" cy="142.8" r="2.4"/><circle cx="294.5" cy="146.6" r="2.4"/><circle cx="294.8" cy="141.6" r="2.4"/><circle cx="295" cy="143.1" r="2.4"/><circle cx="295.2" cy="138" r="2.4"/><circle cx="295.5" cy="142.3" r="2.4"/><circle cx="295.8" cy="142.7" r="2.4"/><circle cx="296" cy="140.2" r="2.4"/><circle cx="296.2" cy="139.8" r="2.4"/><circle cx="296.5" cy="146.5" r="2.4"/><circle cx="296.8" cy="137.9" r="2.4"/><circle cx="297" cy="138" r="2.4"/><circle cx="297.2" cy="138.3" r="2.4"/><circle cx="297.5" cy="143.3" r="2.4"/><circle cx="297.8" cy="145.4" r="2.4"/><circle cx="298" cy="140.4" r="2.4"/><circle cx="298.2" cy="137.2" r="2.4"/><circle cx="298.5" cy="137.7" r="2.4"/><circle cx="298.8" cy="141.4" r="2.4"/><circle cx="299" cy="135.7" r="2.4"/><circle cx="299.2" cy="141.8" r="2.4"/><circle cx="299.5" cy="141.4" r="2.4"/><circle cx="299.8" cy="137.4" r="2.4"/><circle cx="300" cy="138.6" r="2.4"/><circle cx="300.2" cy="138.6" r="2.4"/><circle cx="300.5" cy="140.5" r="2.4"/><circle cx="300.8" cy="133.1" r="2.4"/><circle cx="301" cy="138.8" r="2.4"/><circle cx="301.2" cy="134.3" r="2.4"/><circle cx="301.5" cy="132.9" r="2.4"/><circle cx="301.8" cy="134.9" r="2.4"/><circle cx="302" cy="133.7" r="2.4"/><circle cx="302.2" cy="131.3" r="2.4"/><circle cx="302.5" cy="129.3" r="2.4"/><circle cx="302.8" cy="130.8" r="2.4"/><circle cx="303" cy="137" r="2.4"/><circle cx="303.2" cy="138.1" r="2.4"/><circle cx="303.5" cy="134.2" r="2.4"/><circle cx="303.8" cy="135.3" r="2.4"/><circle cx="304" cy="130.3" r="2.4"/><circle cx="304.2" cy="131.2" r="2.4"/><circle cx="304.5" cy="131.9" r="2.4"/><circle cx="304.8" cy="127.8" r="2.4"/><circle cx="305" cy="127.8" r="2.4"/><circle cx="305.2" cy="130.4" r="2.4"/><circle cx="305.5" cy="129" r="2.4"/><circle cx="305.8" cy="126.6" r="2.4"/><circle cx="306" cy="130.3" r="2.4"/><circle cx="306.2" cy="128.2" r="2.4"/><circle cx="306.5" cy="131.5" r="2.4"/><circle cx="306.8" cy="128.3" r="2.4"/><circle cx="307" cy="127.1" r="2.4"/><circle cx="307.2" cy="128" r="2.4"/><circle cx="307.5" cy="126.9" r="2.4"/><circle cx="307.8" cy="125.2" r="2.4"/><circle cx="308" cy="125.6" r="2.4"/><circle cx="308.2" cy="128.5" r="2.4"/><circle cx="308.5" cy="127.9" r="2.4"/><circle cx="308.8" cy="129.4" r="2.4"/><circle cx="309" cy="120.7" r="2.4"/><circle cx="309.2" cy="124.1" r="2.4"/><circle cx="309.5" cy="123.7" r="2.4"/><circle cx="309.8" cy="125" r="2.4"/><circle cx="310" cy="123" r="2.4"/><circle cx="310.2" cy="122.5" r="2.4"/><circle cx="310.5" cy="125.8" r="2.4"/><circle cx="310.8" cy="123.8" r="2.4"/><circle cx="311" cy="119.7" r="2.4"/><circle cx="311.2" cy="126.5" r="2.4"/><circle cx="311.5" cy="125.2" r="2.4"/><circle cx="311.8" cy="120.5" r="2.4"/><circle cx="312" cy="124.2" r="2.4"/><circle cx="312.2" cy="119.4" r="2.4"/><circle cx="312.5" cy="124.4" r="2.4"/><circle cx="312.8" cy="120.2" r="2.4"/><circle cx="313" cy="118.3" r="2.4"/><circle cx="313.2" cy="119.2" r="2.4"/><circle cx="313.5" cy="117.8" r="2.4"/><circle cx="313.8" cy="120.2" r="2.4"/><circle cx="314" cy="119.9" r="2.4"/><circle cx="314.2" cy="119.2" r="2.4"/><circle cx="314.5" cy="117.1" r="2.4"/><circle cx="314.8" cy="107.9" r="2.4"/><circle cx="315" cy="118.4" r="2.4"/><circle cx="315.2" cy="112.4" r="2.4"/><circle cx="315.5" cy="118.3" r="2.4"/><circle cx="315.8" cy="120.5" r="2.4"/><circle cx="316" cy="117.7" r="2.4"/><circle cx="316.2" cy="115.5" r="2.4"/><circle cx="316.5" cy="115.8" r="2.4"/><circle cx="316.8" cy="115.7" r="2.4"/><circle cx="317" cy="114.2" r="2.4"/><circle cx="317.2" cy="113.8" r="2.4"/><circle cx="317.5" cy="112.5" r="2.4"/><circle cx="317.8" cy="118.3" r="2.4"/><circle cx="318" cy="114.5" r="2.4"/><circle cx="318.2" cy="117.1" r="2.4"/><circle cx="318.5" cy="113.2" r="2.4"/><circle cx="318.8" cy="113.9" r="2.4"/><circle cx="319" cy="112.9" r="2.4"/><circle cx="319.2" cy="114.4" r="2.4"/><circle cx="319.5" cy="115.2" r="2.4"/><circle cx="319.8" cy="113.2" r="2.4"/><circle cx="320" cy="110.2" r="2.4"/><circle cx="320.2" cy="109.6" r="2.4"/><circle cx="320.5" cy="116.5" r="2.4"/><circle cx="320.8" cy="110.5" r="2.4"/><circle cx="321" cy="110.2" r="2.4"/><circle cx="321.2" cy="115.1" r="2.4"/><circle cx="321.5" cy="113.7" r="2.4"/><circle cx="321.8" cy="111.8" r="2.4"/><circle cx="322" cy="108.7" r="2.4"/><circle cx="322.2" cy="116.6" r="2.4"/><circle cx="322.5" cy="110.5" r="2.4"/><circle cx="322.8" cy="110.6" r="2.4"/><circle cx="323" cy="108.2" r="2.4"/><circle cx="323.2" cy="104.3" r="2.4"/><circle cx="323.5" cy="104.2" r="2.4"/><circle cx="323.8" cy="109.1" r="2.4"/><circle cx="324" cy="108.8" r="2.4"/><circle cx="324.2" cy="106.6" r="2.4"/><circle cx="324.5" cy="103.5" r="2.4"/><circle cx="324.8" cy="102.4" r="2.4"/><circle cx="325" cy="105.5" r="2.4"/><circle cx="325.2" cy="101.8" r="2.4"/><circle cx="325.5" cy="108.6" r="2.4"/><circle cx="325.8" cy="109.1" r="2.4"/><circle cx="326" cy="113.8" r="2.4"/><circle cx="326.2" cy="107.7" r="2.4"/><circle cx="326.5" cy="103" r="2.4"/><circle cx="326.8" cy="101.9" r="2.4"/><circle cx="327" cy="93.8" r="2.4"/><circle cx="327.2" cy="102.1" r="2.4"/><circle cx="327.5" cy="103.1" r="2.4"/><circle cx="327.8" cy="106.3" r="2.4"/><circle cx="328" cy="104.9" r="2.4"/><circle cx="328.2" cy="104.6" r="2.4"/><circle cx="328.5" cy="103.2" r="2.4"/><circle cx="328.8" cy="104.3" r="2.4"/><circle cx="329" cy="106.4" r="2.4"/><circle cx="329.2" cy="98.5" r="2.4"/><circle cx="329.5" cy="100" r="2.4"/><circle cx="329.8" cy="96.9" r="2.4"/><circle cx="330" cy="105.8" r="2.4"/><circle cx="330.2" cy="104.6" r="2.4"/><circle cx="330.5" cy="102.6" r="2.4"/><circle cx="330.8" cy="96.4" r="2.4"/><circle cx="331" cy="100.3" r="2.4"/><circle cx="331.2" cy="98.8" r="2.4"/><circle cx="331.5" cy="99.5" r="2.4"/><circle cx="331.8" cy="98.4" r="2.4"/><circle cx="332" cy="100.3" r="2.4"/><circle cx="332.2" cy="97.2" r="2.4"/><circle cx="332.5" cy="100.8" r="2.4"/><circle cx="332.8" cy="98.6" r="2.4"/><circle cx="333" cy="96.7" r="2.4"/><circle cx="333.2" cy="97" r="2.4"/><circle cx="333.5" cy="95.7" r="2.4"/><circle cx="333.8" cy="99.3" r="2.4"/><circle cx="334" cy="95.7" r="2.4"/><circle cx="334.2" cy="97.2" r="2.4"/><circle cx="334.5" cy="94.8" r="2.4"/><circle cx="334.8" cy="91.2" r="2.4"/><circle cx="335" cy="98.3" r="2.4"/><circle cx="335.2" cy="92" r="2.4"/><circle cx="335.5" cy="97.1" r="2.4"/><circle cx="335.8" cy="96" r="2.4"/><circle cx="336" cy="89.3" r="2.4"/><circle cx="336.2" cy="91.3" r="2.4"/><circle cx="336.5" cy="92.3" r="2.4"/><circle cx="336.8" cy="91.1" r="2.4"/><circle cx="337" cy="89.7" r="2.4"/><circle cx="337.2" cy="95.4" r="2.4"/><circle cx="337.5" cy="92.1" r="2.4"/><circle cx="337.8" cy="93.8" r="2.4"/><circle cx="338" cy="91" r="2.4"/><circle cx="338.2" cy="93.1" r="2.4"/><circle cx="338.5" cy="89.5" r="2.4"/><circle cx="338.8" cy="91.5" r="2.4"/><circle cx="339" cy="93.2" r="2.4"/><circle cx="339.2" cy="91.2" r="2.4"/><circle cx="339.5" cy="89.4" r="2.4"/><circle cx="339.8" cy="87.2" r="2.4"/><circle cx="340" cy="90.8" r="2.4"/><circle cx="340.2" cy="91.1" r="2.4"/><circle cx="340.5" cy="89" r="2.4"/><circle cx="340.8" cy="87.1" r="2.4"/><circle cx="341" cy="91" r="2.4"/><circle cx="341.2" cy="96.9" r="2.4"/><circle cx="341.5" cy="87.9" r="2.4"/><circle cx="341.8" cy="89.6" r="2.4"/><circle cx="342" cy="89.5" r="2.4"/><circle cx="342.2" cy="80" r="2.4"/><circle cx="342.5" cy="88.2" r="2.4"/><circle cx="342.8" cy="85.3" r="2.4"/><circle cx="343" cy="91.7" r="2.4"/><circle cx="343.2" cy="86.3" r="2.4"/><circle cx="343.5" cy="84.4" r="2.4"/><circle cx="343.8" cy="85.9" r="2.4"/><circle cx="344" cy="86.8" r="2.4"/><circle cx="344.2" cy="84.3" r="2.4"/><circle cx="344.5" cy="85.7" r="2.4"/><circle cx="344.8" cy="81.3" r="2.4"/><circle cx="345" cy="84.6" r="2.4"/><circle cx="345.2" cy="87.6" r="2.4"/><circle cx="345.5" cy="91.1" r="2.4"/><circle cx="345.8" cy="86.9" r="2.4"/><circle cx="346" cy="85.2" r="2.4"/><circle cx="346.2" cy="87.9" r="2.4"/><circle cx="346.5" cy="87.1" r="2.4"/><circle cx="346.8" cy="89" r="2.4"/><circle cx="347" cy="86.9" r="2.4"/><circle cx="347.2" cy="82.8" r="2.4"/><circle cx="347.5" cy="83.8" r="2.4"/><circle cx="347.8" cy="83.3" r="2.4"/><circle cx="348" cy="83.4" r="2.4"/><circle cx="348.2" cy="82.9" r="2.4"/><circle cx="348.5" cy="79.5" r="2.4"/><circle cx="348.8" cy="75" r="2.4"/><circle cx="349" cy="79.4" r="2.4"/><circle cx="349.2" cy="74.8" r="2.4"/><circle cx="349.5" cy="81.3" r="2.4"/><circle cx="349.8" cy="80.8" r="2.4"/><circle cx="350" cy="75.2" r="2.4"/><circle cx="350.2" cy="82.6" r="2.4"/><circle cx="350.5" cy="82.9" r="2.4"/><circle cx="350.8" cy="80.2" r="2.4"/><circle cx="351" cy="85" r="2.4"/><circle cx="351.2" cy="85.5" r="2.4"/><circle cx="351.5" cy="75.3" r="2.4"/><circle cx="351.8" cy="82.3" r="2.4"/><circle cx="352" cy="80.2" r="2.4"/><circle cx="352.2" cy="79.9" r="2.4"/><circle cx="352.5" cy="81.3" r="2.4"/><circle cx="352.8" cy="75.7" r="2.4"/><circle cx="353" cy="75.9" r="2.4"/><circle cx="353.2" cy="74.9" r="2.4"/><circle cx="353.5" cy="74.9" r="2.4"/><circle cx="353.8" cy="76.8" r="2.4"/><circle cx="354" cy="72.2" r="2.4"/><circle cx="354.2" cy="73.3" r="2.4"/><circle cx="354.5" cy="78.3" r="2.4"/><circle cx="354.8" cy="76" r="2.4"/><circle cx="355" cy="77.3" r="2.4"/><circle cx="355.2" cy="69.6" r="2.4"/><circle cx="355.5" cy="73" r="2.4"/><circle cx="355.8" cy="73.5" r="2.4"/><circle cx="356" cy="75.2" r="2.4"/><circle cx="356.2" cy="73" r="2.4"/><circle cx="356.5" cy="77.7" r="2.4"/><circle cx="356.8" cy="74.3" r="2.4"/><circle cx="357" cy="74.3" r="2.4"/><circle cx="357.2" cy="74.1" r="2.4"/><circle cx="357.5" cy="76.1" r="2.4"/><circle cx="357.8" cy="72.1" r="2.4"/><circle cx="358" cy="77.1" r="2.4"/><circle cx="358.2" cy="74.7" r="2.4"/><circle cx="358.5" cy="73.5" r="2.4"/><circle cx="358.8" cy="72.9" r="2.4"/><circle cx="359" cy="74.2" r="2.4"/><circle cx="359.2" cy="75.7" r="2.4"/><circle cx="359.5" cy="75.2" r="2.4"/><circle cx="359.8" cy="73.1" r="2.4"/><circle cx="360" cy="74.6" r="2.4"/><circle cx="360.2" cy="71.9" r="2.4"/><circle cx="360.5" cy="75.4" r="2.4"/><circle cx="360.8" cy="71" r="2.4"/><circle cx="361" cy="64" r="2.4"/><circle cx="361.2" cy="75.1" r="2.4"/><circle cx="361.5" cy="70.8" r="2.4"/><circle cx="361.8" cy="66.3" r="2.4"/><circle cx="362" cy="69.3" r="2.4"/><circle cx="362.2" cy="66.9" r="2.4"/><circle cx="362.5" cy="76.6" r="2.4"/><circle cx="362.8" cy="71" r="2.4"/><circle cx="363" cy="64" r="2.4"/><circle cx="363.2" cy="70.8" r="2.4"/><circle cx="363.5" cy="67.4" r="2.4"/><circle cx="363.8" cy="74.9" r="2.4"/><circle cx="364" cy="64.8" r="2.4"/><circle cx="364.2" cy="60.7" r="2.4"/><circle cx="364.5" cy="68.2" r="2.4"/><circle cx="364.8" cy="66.6" r="2.4"/><circle cx="365" cy="66.2" r="2.4"/><circle cx="365.2" cy="60.2" r="2.4"/><circle cx="365.5" cy="68.6" r="2.4"/><circle cx="365.8" cy="72.5" r="2.4"/><circle cx="366" cy="60.4" r="2.4"/><circle cx="366.2" cy="70.5" r="2.4"/><circle cx="366.5" cy="64.4" r="2.4"/><circle cx="366.8" cy="74" r="2.4"/><circle cx="367" cy="67.4" r="2.4"/><circle cx="367.2" cy="65.1" r="2.4"/><circle cx="367.5" cy="69.3" r="2.4"/><circle cx="367.8" cy="67.1" r="2.4"/><circle cx="368" cy="63.2" r="2.4"/><circle cx="368.2" cy="67.4" r="2.4"/><circle cx="368.5" cy="63.1" r="2.4"/><circle cx="368.8" cy="58.6" r="2.4"/><circle cx="369" cy="71.2" r="2.4"/><circle cx="369.2" cy="63" r="2.4"/><circle cx="369.5" cy="62" r="2.4"/><circle cx="369.8" cy="65" r="2.4"/><circle cx="370" cy="58.4" r="2.4"/><circle cx="370.2" cy="58.9" r="2.4"/><circle cx="370.5" cy="61.6" r="2.4"/><circle cx="370.8" cy="61.3" r="2.4"/><circle cx="371" cy="63.1" r="2.4"/><circle cx="371.2" cy="66.5" r="2.4"/><circle cx="371.5" cy="60.9" r="2.4"/><circle cx="371.8" cy="64" r="2.4"/><circle cx="372" cy="64.2" r="2.4"/><circle cx="372.2" cy="58.3" r="2.4"/><circle cx="372.5" cy="62.5" r="2.4"/><circle cx="372.8" cy="58.4" r="2.4"/><circle cx="373" cy="65" r="2.4"/><circle cx="373.2" cy="62.8" r="2.4"/><circle cx="373.5" cy="61.1" r="2.4"/><circle cx="373.8" cy="56.3" r="2.4"/><circle cx="374" cy="61.1" r="2.4"/><circle cx="374.2" cy="57.9" r="2.4"/><circle cx="374.5" cy="62.7" r="2.4"/><circle cx="374.8" cy="59.7" r="2.4"/><circle cx="375" cy="57.2" r="2.4"/><circle cx="375.2" cy="62.9" r="2.4"/><circle cx="375.5" cy="62" r="2.4"/><circle cx="375.8" cy="57.4" r="2.4"/><circle cx="376" cy="63.2" r="2.4"/><circle cx="376.2" cy="58" r="2.4"/><circle cx="376.5" cy="57.8" r="2.4"/><circle cx="376.8" cy="59.1" r="2.4"/><circle cx="377" cy="55.9" r="2.4"/><circle cx="377.2" cy="56.8" r="2.4"/><circle cx="377.5" cy="57.6" r="2.4"/><circle cx="377.8" cy="63.2" r="2.4"/><circle cx="378" cy="63" r="2.4"/><circle cx="378.2" cy="56.8" r="2.4"/><circle cx="378.5" cy="63" r="2.4"/><circle cx="378.8" cy="57.1" r="2.4"/><circle cx="379" cy="58.4" r="2.4"/><circle cx="379.2" cy="60" r="2.4"/><circle cx="379.5" cy="57.8" r="2.4"/><circle cx="379.8" cy="64.9" r="2.4"/><circle cx="380" cy="57.3" r="2.4"/><circle cx="380.2" cy="52.2" r="2.4"/><circle cx="380.5" cy="60.6" r="2.4"/><circle cx="380.8" cy="54.5" r="2.4"/><circle cx="381" cy="54.7" r="2.4"/><circle cx="381.2" cy="45.3" r="2.4"/><circle cx="381.5" cy="58.9" r="2.4"/><circle cx="381.8" cy="58.1" r="2.4"/><circle cx="382" cy="57.9" r="2.4"/><circle cx="382.2" cy="58.3" r="2.4"/><circle cx="382.5" cy="60.6" r="2.4"/><circle cx="382.8" cy="54.5" r="2.4"/><circle cx="383" cy="57.7" r="2.4"/><circle cx="383.2" cy="51.7" r="2.4"/><circle cx="383.5" cy="52.9" r="2.4"/><circle cx="383.8" cy="57.6" r="2.4"/><circle cx="384" cy="55.2" r="2.4"/><circle cx="384.2" cy="49" r="2.4"/><circle cx="384.5" cy="54.7" r="2.4"/><circle cx="384.8" cy="52.7" r="2.4"/><circle cx="385" cy="50.3" r="2.4"/><circle cx="385.2" cy="54.5" r="2.4"/><circle cx="385.5" cy="51.4" r="2.4"/><circle cx="385.8" cy="47.2" r="2.4"/><circle cx="386" cy="48.7" r="2.4"/><circle cx="386.2" cy="58.5" r="2.4"/><circle cx="386.5" cy="46.9" r="2.4"/><circle cx="386.8" cy="52.8" r="2.4"/><circle cx="387" cy="54" r="2.4"/><circle cx="387.2" cy="54" r="2.4"/><circle cx="387.5" cy="47.3" r="2.4"/><circle cx="387.8" cy="50.3" r="2.4"/><circle cx="388" cy="51.8" r="2.4"/><circle cx="388.2" cy="53.9" r="2.4"/><circle cx="388.5" cy="48.7" r="2.4"/><circle cx="388.8" cy="46.8" r="2.4"/><circle cx="389" cy="54.2" r="2.4"/><circle cx="389.2" cy="54.4" r="2.4"/><circle cx="389.5" cy="51.7" r="2.4"/><circle cx="389.8" cy="48.1" r="2.4"/><circle cx="390" cy="51.5" r="2.4"/><circle cx="390.2" cy="50.3" r="2.4"/><circle cx="390.5" cy="52.7" r="2.4"/><circle cx="390.8" cy="45.3" r="2.4"/><circle cx="391" cy="49.9" r="2.4"/><circle cx="391.2" cy="48.8" r="2.4"/><circle cx="391.5" cy="45.3" r="2.4"/><circle cx="391.8" cy="49.8" r="2.4"/><circle cx="392" cy="49" r="2.4"/><circle cx="392.2" cy="47.3" r="2.4"/><circle cx="392.5" cy="50" r="2.4"/><circle cx="392.8" cy="43.5" r="2.4"/><circle cx="393" cy="48.1" r="2.4"/><circle cx="393.2" cy="49.7" r="2.4"/><circle cx="393.5" cy="49" r="2.4"/><circle cx="393.8" cy="51.7" r="2.4"/><circle cx="394" cy="43.5" r="2.4"/><circle cx="394.2" cy="42.3" r="2.4"/><circle cx="394.5" cy="48.3" r="2.4"/><circle cx="394.8" cy="48.9" r="2.4"/><circle cx="395" cy="54.7" r="2.4"/><circle cx="395.2" cy="49.2" r="2.4"/><circle cx="395.5" cy="43.8" r="2.4"/><circle cx="395.8" cy="49.6" r="2.4"/><circle cx="396" cy="43.7" r="2.4"/><circle cx="396.2" cy="41.3" r="2.4"/><circle cx="396.5" cy="55.6" r="2.4"/><circle cx="396.8" cy="47.4" r="2.4"/><circle cx="397" cy="48.6" r="2.4"/><circle cx="397.2" cy="48" r="2.4"/><circle cx="397.5" cy="52.2" r="2.4"/><circle cx="397.8" cy="46.7" r="2.4"/><circle cx="398" cy="49.9" r="2.4"/><circle cx="398.2" cy="41.8" r="2.4"/><circle cx="398.5" cy="40.4" r="2.4"/><circle cx="398.8" cy="50.2" r="2.4"/><circle cx="399" cy="50.3" r="2.4"/><circle cx="399.2" cy="46.7" r="2.4"/><circle cx="399.5" cy="45.6" r="2.4"/><circle cx="399.8" cy="45.2" r="2.4"/><circle cx="400" cy="42.1" r="2.4"/><circle cx="400.2" cy="49.9" r="2.4"/><circle cx="400.5" cy="46.6" r="2.4"/><circle cx="400.8" cy="45.9" r="2.4"/><circle cx="401" cy="45.3" r="2.4"/><circle cx="401.2" cy="47.6" r="2.4"/><circle cx="401.5" cy="45.5" r="2.4"/><circle cx="401.8" cy="46.3" r="2.4"/><circle cx="402" cy="39.3" r="2.4"/><circle cx="402.2" cy="45.2" r="2.4"/><circle cx="402.5" cy="51" r="2.4"/><circle cx="402.8" cy="41.3" r="2.4"/><circle cx="403" cy="42.5" r="2.4"/><circle cx="403.2" cy="46.1" r="2.4"/><circle cx="403.5" cy="46.2" r="2.4"/><circle cx="403.8" cy="44.9" r="2.4"/><circle cx="404" cy="36.7" r="2.4"/><circle cx="404.2" cy="44.2" r="2.4"/><circle cx="404.5" cy="38" r="2.4"/><circle cx="404.8" cy="39.2" r="2.4"/><circle cx="405" cy="44" r="2.4"/><circle cx="405.2" cy="40.8" r="2.4"/><circle cx="405.5" cy="44.7" r="2.4"/><circle cx="405.8" cy="52.9" r="2.4"/><circle cx="406" cy="44.3" r="2.4"/><circle cx="406.2" cy="44" r="2.4"/><circle cx="406.5" cy="38.1" r="2.4"/><circle cx="406.8" cy="38.9" r="2.4"/><circle cx="407" cy="37.3" r="2.4"/><circle cx="407.2" cy="39" r="2.4"/><circle cx="407.5" cy="36.9" r="2.4"/><circle cx="407.8" cy="38.4" r="2.4"/><circle cx="408" cy="39.9" r="2.4"/><circle cx="408.2" cy="36.9" r="2.4"/><circle cx="408.5" cy="35.3" r="2.4"/><circle cx="408.8" cy="35.4" r="2.4"/><circle cx="409" cy="41.8" r="2.4"/><circle cx="409.2" cy="40.2" r="2.4"/><circle cx="409.5" cy="43.6" r="2.4"/><circle cx="409.8" cy="43.6" r="2.4"/><circle cx="410" cy="38.5" r="2.4"/><circle cx="410.2" cy="42" r="2.4"/><circle cx="410.5" cy="34.3" r="2.4"/><circle cx="410.8" cy="47.6" r="2.4"/><circle cx="411" cy="43.6" r="2.4"/><circle cx="411.2" cy="38.4" r="2.4"/><circle cx="411.5" cy="34.8" r="2.4"/><circle cx="411.8" cy="40.3" r="2.4"/><circle cx="412" cy="32.1" r="2.4"/><circle cx="412.2" cy="35.9" r="2.4"/><circle cx="412.5" cy="41.3" r="2.4"/><circle cx="412.8" cy="38.8" r="2.4"/><circle cx="413" cy="36.6" r="2.4"/><circle cx="413.2" cy="41.7" r="2.4"/><circle cx="413.5" cy="34.4" r="2.4"/><circle cx="413.8" cy="39.1" r="2.4"/><circle cx="414" cy="36.2" r="2.4"/><circle cx="414.2" cy="34.8" r="2.4"/><circle cx="414.5" cy="39.4" r="2.4"/><circle cx="414.8" cy="34.1" r="2.4"/><circle cx="415" cy="44.4" r="2.4"/><circle cx="415.2" cy="35.3" r="2.4"/><circle cx="415.5" cy="44.5" r="2.4"/><circle cx="415.8" cy="33.3" r="2.4"/><circle cx="416" cy="39.3" r="2.4"/><circle cx="416.2" cy="32.7" r="2.4"/><circle cx="416.5" cy="32.1" r="2.4"/><circle cx="416.8" cy="37.4" r="2.4"/><circle cx="417" cy="39.2" r="2.4"/><circle cx="417.2" cy="32" r="2.4"/><circle cx="417.5" cy="40.8" r="2.4"/><circle cx="417.8" cy="33.5" r="2.4"/><circle cx="418" cy="36.8" r="2.4"/><circle cx="418.2" cy="37.6" r="2.4"/><circle cx="418.5" cy="38.3" r="2.4"/><circle cx="418.8" cy="29.5" r="2.4"/><circle cx="419" cy="41.8" r="2.4"/><circle cx="419.2" cy="37.9" r="2.4"/><circle cx="419.5" cy="34.2" r="2.4"/><circle cx="419.8" cy="31.9" r="2.4"/><circle cx="420" cy="29.4" r="2.4"/><circle cx="420.2" cy="30.5" r="2.4"/><circle cx="420.5" cy="37.4" r="2.4"/><circle cx="420.8" cy="34" r="2.4"/><circle cx="421" cy="31.1" r="2.4"/><circle cx="421.2" cy="33.2" r="2.4"/><circle cx="421.5" cy="40.7" r="2.4"/><circle cx="421.8" cy="33.7" r="2.4"/><circle cx="422" cy="32.7" r="2.4"/><circle cx="422.2" cy="39.6" r="2.4"/><circle cx="422.5" cy="36.3" r="2.4"/><circle cx="422.8" cy="34.7" r="2.4"/><circle cx="423" cy="32.2" r="2.4"/><circle cx="423.2" cy="28.7" r="2.4"/><circle cx="423.5" cy="30" r="2.4"/><circle cx="423.8" cy="32.4" r="2.4"/><circle cx="424" cy="33.3" r="2.4"/><circle cx="424.2" cy="35.3" r="2.4"/><circle cx="424.5" cy="35.9" r="2.4"/><circle cx="424.8" cy="34.6" r="2.4"/><circle cx="425" cy="34.5" r="2.4"/><circle cx="425.2" cy="30" r="2.4"/><circle cx="425.5" cy="25.7" r="2.4"/><circle cx="425.8" cy="31.6" r="2.4"/><circle cx="426" cy="29.9" r="2.4"/><circle cx="426.2" cy="30.9" r="2.4"/><circle cx="426.5" cy="32.2" r="2.4"/><circle cx="426.8" cy="28.6" r="2.4"/><circle cx="427" cy="29" r="2.4"/><circle cx="427.2" cy="32.6" r="2.4"/><circle cx="427.5" cy="33.3" r="2.4"/><circle cx="427.8" cy="30.4" r="2.4"/><circle cx="428" cy="34.5" r="2.4"/><circle cx="428.2" cy="31.8" r="2.4"/><circle cx="428.5" cy="28.8" r="2.4"/><circle cx="428.8" cy="32.6" r="2.4"/><circle cx="429" cy="39.3" r="2.4"/><circle cx="429.2" cy="29.8" r="2.4"/><circle cx="429.5" cy="36.5" r="2.4"/><circle cx="429.8" cy="37.2" r="2.4"/><circle cx="430" cy="37.6" r="2.4"/><circle cx="430.2" cy="29" r="2.4"/><circle cx="430.5" cy="39.3" r="2.4"/><circle cx="430.8" cy="32.3" r="2.4"/><circle cx="431" cy="30.8" r="2.4"/><circle cx="431.2" cy="30.8" r="2.4"/><circle cx="431.5" cy="33.8" r="2.4"/><circle cx="431.8" cy="31.7" r="2.4"/><circle cx="432" cy="30.8" r="2.4"/><circle cx="432.2" cy="36.1" r="2.4"/><circle cx="432.5" cy="28.6" r="2.4"/><circle cx="432.8" cy="27.4" r="2.4"/><circle cx="433" cy="34" r="2.4"/><circle cx="433.2" cy="33.6" r="2.4"/><circle cx="433.5" cy="35" r="2.4"/><circle cx="433.8" cy="27" r="2.4"/><circle cx="434" cy="34.8" r="2.4"/><circle cx="434.2" cy="32.5" r="2.4"/><circle cx="434.5" cy="37.2" r="2.4"/><circle cx="434.8" cy="26" r="2.4"/><circle cx="435" cy="31.3" r="2.4"/><circle cx="435.2" cy="29.4" r="2.4"/><circle cx="435.5" cy="24.5" r="2.4"/><circle cx="435.8" cy="27.7" r="2.4"/><circle cx="436" cy="34.4" r="2.4"/><circle cx="436.2" cy="28.5" r="2.4"/><circle cx="436.5" cy="27.4" r="2.4"/><circle cx="436.8" cy="33.2" r="2.4"/><circle cx="437" cy="33.6" r="2.4"/><circle cx="437.2" cy="33.5" r="2.4"/><circle cx="437.5" cy="26.9" r="2.4"/><circle cx="437.8" cy="29.5" r="2.4"/><circle cx="438" cy="33.5" r="2.4"/><circle cx="438.2" cy="27.2" r="2.4"/><circle cx="438.5" cy="26.8" r="2.4"/><circle cx="438.8" cy="32.5" r="2.4"/><circle cx="439" cy="35.2" r="2.4"/><circle cx="439.2" cy="25.1" r="2.4"/><circle cx="439.5" cy="19.7" r="2.4"/><circle cx="439.8" cy="23.9" r="2.4"/><circle cx="440" cy="25.4" r="2.4"/><circle cx="440.2" cy="28.6" r="2.4"/><circle cx="440.5" cy="31.3" r="2.4"/><circle cx="440.8" cy="28.4" r="2.4"/><circle cx="441" cy="26.3" r="2.4"/><circle cx="441.2" cy="29.4" r="2.4"/><circle cx="441.5" cy="25.2" r="2.4"/><circle cx="441.8" cy="28.5" r="2.4"/><circle cx="442" cy="26.2" r="2.4"/><circle cx="442.2" cy="38.5" r="2.4"/><circle cx="442.5" cy="31.5" r="2.4"/><circle cx="442.8" cy="25.3" r="2.4"/><circle cx="443" cy="24.7" r="2.4"/><circle cx="443.2" cy="26.7" r="2.4"/><circle cx="443.5" cy="22.2" r="2.4"/><circle cx="443.8" cy="25.5" r="2.4"/><circle cx="444" cy="25.4" r="2.4"/><circle cx="444.2" cy="31.3" r="2.4"/><circle cx="444.5" cy="26.4" r="2.4"/><circle cx="444.8" cy="25" r="2.4"/><circle cx="445" cy="22.9" r="2.4"/><circle cx="445.2" cy="23.5" r="2.4"/><circle cx="445.5" cy="27.5" r="2.4"/><circle cx="445.8" cy="26.9" r="2.4"/><circle cx="446" cy="31.8" r="2.4"/><circle cx="446.2" cy="25.2" r="2.4"/><circle cx="446.5" cy="31.4" r="2.4"/><circle cx="446.8" cy="28.4" r="2.4"/><circle cx="447" cy="27.4" r="2.4"/><circle cx="447.2" cy="19.9" r="2.4"/><circle cx="447.5" cy="22.5" r="2.4"/><circle cx="447.8" cy="30" r="2.4"/><circle cx="448" cy="32.3" r="2.4"/><circle cx="448.2" cy="27.9" r="2.4"/><circle cx="448.5" cy="29.9" r="2.4"/><circle cx="448.8" cy="25.5" r="2.4"/><circle cx="449" cy="25.6" r="2.4"/><circle cx="449.2" cy="24.4" r="2.4"/><circle cx="449.5" cy="30.4" r="2.4"/><circle cx="449.8" cy="28" r="2.4"/><circle cx="450" cy="25.8" r="2.4"/><circle cx="450.2" cy="25.4" r="2.4"/><circle cx="450.5" cy="28.7" r="2.4"/><circle cx="450.8" cy="27.7" r="2.4"/><circle cx="451" cy="23.4" r="2.4"/><circle cx="451.2" cy="32.8" r="2.4"/><circle cx="451.5" cy="27.3" r="2.4"/><circle cx="451.8" cy="26.4" r="2.4"/><circle cx="452" cy="31.8" r="2.4"/><circle cx="452.2" cy="30" r="2.4"/><circle cx="452.5" cy="25.9" r="2.4"/><circle cx="452.8" cy="28.1" r="2.4"/><circle cx="453" cy="22.1" r="2.4"/><circle cx="453.2" cy="23.6" r="2.4"/><circle cx="453.5" cy="17.6" r="2.4"/><circle cx="453.8" cy="30.5" r="2.4"/><circle cx="454" cy="18.8" r="2.4"/><circle cx="454.2" cy="28.4" r="2.4"/><circle cx="454.5" cy="22.7" r="2.4"/><circle cx="454.8" cy="22.1" r="2.4"/><circle cx="455" cy="24.9" r="2.4"/><circle cx="455.2" cy="26.6" r="2.4"/><circle cx="455.5" cy="27.8" r="2.4"/><circle cx="455.8" cy="32.1" r="2.4"/><circle cx="456" cy="26.8" r="2.4"/><circle cx="456.2" cy="28.7" r="2.4"/><circle cx="456.5" cy="23.1" r="2.4"/><circle cx="456.8" cy="28" r="2.4"/><circle cx="457" cy="25.8" r="2.4"/><circle cx="457.2" cy="23.5" r="2.4"/><circle cx="457.5" cy="24.8" r="2.4"/><circle cx="457.8" cy="24.9" r="2.4"/><circle cx="458" cy="25.8" r="2.4"/><circle cx="458.2" cy="26.5" r="2.4"/><circle cx="458.5" cy="23.1" r="2.4"/><circle cx="458.8" cy="22.2" r="2.4"/><circle cx="459" cy="27.7" r="2.4"/><circle cx="459.2" cy="18.5" r="2.4"/><circle cx="459.5" cy="22.5" r="2.4"/><circle cx="459.8" cy="30.6" r="2.4"/><circle cx="460" cy="14.6" r="2.4"/><circle cx="460.2" cy="22.1" r="2.4"/><circle cx="460.5" cy="27.2" r="2.4"/><circle cx="460.8" cy="18.4" r="2.4"/><circle cx="461" cy="34.2" r="2.4"/><circle cx="461.2" cy="14.8" r="2.4"/><circle cx="461.5" cy="29.8" r="2.4"/><circle cx="461.8" cy="30.2" r="2.4"/><circle cx="462" cy="27.8" r="2.4"/><circle cx="462.2" cy="23.5" r="2.4"/><circle cx="462.5" cy="25.6" r="2.4"/><circle cx="462.8" cy="20.9" r="2.4"/><circle cx="463" cy="27.2" r="2.4"/><circle cx="463.2" cy="20" r="2.4"/><circle cx="463.5" cy="23.1" r="2.4"/><circle cx="463.8" cy="27.8" r="2.4"/><circle cx="464" cy="19.9" r="2.4"/><circle cx="464.2" cy="22.6" r="2.4"/><circle cx="464.5" cy="24.6" r="2.4"/><circle cx="464.8" cy="18.9" r="2.4"/><circle cx="465" cy="28.2" r="2.4"/><circle cx="465.2" cy="25.1" r="2.4"/><circle cx="465.5" cy="18.1" r="2.4"/><circle cx="465.8" cy="23.6" r="2.4"/><circle cx="466" cy="20.8" r="2.4"/><circle cx="466.2" cy="21.2" r="2.4"/><circle cx="466.5" cy="23.9" r="2.4"/><circle cx="466.8" cy="20.9" r="2.4"/><circle cx="467" cy="27.2" r="2.4"/><circle cx="467.2" cy="20.9" r="2.4"/><circle cx="467.5" cy="27.2" r="2.4"/><circle cx="467.8" cy="23.3" r="2.4"/><circle cx="468" cy="26.6" r="2.4"/><circle cx="468.2" cy="21.3" r="2.4"/><circle cx="468.5" cy="21.4" r="2.4"/><circle cx="468.8" cy="19" r="2.4"/><circle cx="469" cy="25.4" r="2.4"/><circle cx="469.2" cy="26.7" r="2.4"/><circle cx="469.5" cy="31.1" r="2.4"/><circle cx="469.8" cy="28" r="2.4"/><circle cx="470" cy="24.1" r="2.4"/><circle cx="470.2" cy="22.3" r="2.4"/><circle cx="470.5" cy="24.5" r="2.4"/><circle cx="470.8" cy="22.9" r="2.4"/><circle cx="471" cy="28.5" r="2.4"/><circle cx="471.2" cy="26.5" r="2.4"/><circle cx="471.5" cy="19.8" r="2.4"/><circle cx="471.8" cy="20.3" r="2.4"/><circle cx="472" cy="28" r="2.4"/><circle cx="472.2" cy="24" r="2.4"/><circle cx="472.5" cy="21.9" r="2.4"/><circle cx="472.8" cy="27.2" r="2.4"/><circle cx="473" cy="21.2" r="2.4"/><circle cx="473.2" cy="21.6" r="2.4"/><circle cx="473.5" cy="20.9" r="2.4"/><circle cx="473.8" cy="15.2" r="2.4"/><circle cx="474" cy="25.8" r="2.4"/><circle cx="474.2" cy="18" r="2.4"/><circle cx="474.5" cy="20.4" r="2.4"/><circle cx="474.8" cy="19.7" r="2.4"/><circle cx="475" cy="25.2" r="2.4"/><circle cx="475.2" cy="22.1" r="2.4"/><circle cx="475.5" cy="22.4" r="2.4"/><circle cx="475.8" cy="16" r="2.4"/><circle cx="476" cy="22" r="2.4"/><circle cx="476.2" cy="16.7" r="2.4"/><circle cx="476.5" cy="23.4" r="2.4"/><circle cx="476.8" cy="23.6" r="2.4"/><circle cx="477" cy="22.1" r="2.4"/><circle cx="477.2" cy="29.8" r="2.4"/><circle cx="477.5" cy="24.1" r="2.4"/><circle cx="477.8" cy="24.3" r="2.4"/><circle cx="478" cy="22.6" r="2.4"/><circle cx="478.2" cy="21.3" r="2.4"/><circle cx="478.5" cy="25.6" r="2.4"/><circle cx="478.8" cy="26.1" r="2.4"/><circle cx="479" cy="17.1" r="2.4"/><circle cx="479.2" cy="25.9" r="2.4"/><circle cx="479.5" cy="23.8" r="2.4"/><circle cx="479.8" cy="25.5" r="2.4"/><circle cx="480" cy="23.6" r="2.4"/><circle cx="480.2" cy="17.1" r="2.4"/><circle cx="480.5" cy="17.4" r="2.4"/><circle cx="480.8" cy="28.6" r="2.4"/><circle cx="481" cy="22.7" r="2.4"/><circle cx="481.2" cy="16.4" r="2.4"/><circle cx="481.5" cy="23" r="2.4"/><circle cx="481.8" cy="20.3" r="2.4"/><circle cx="482" cy="14.7" r="2.4"/><circle cx="482.2" cy="13" r="2.4"/><circle cx="482.5" cy="15.5" r="2.4"/><circle cx="482.8" cy="22.5" r="2.4"/><circle cx="483" cy="21.3" r="2.4"/><circle cx="483.2" cy="20.5" r="2.4"/><circle cx="483.5" cy="22.5" r="2.4"/><circle cx="483.8" cy="23.7" r="2.4"/><circle cx="484" cy="13.5" r="2.4"/><circle cx="484.2" cy="20.2" r="2.4"/><circle cx="484.5" cy="18.2" r="2.4"/><circle cx="484.8" cy="16.7" r="2.4"/><circle cx="485" cy="19.2" r="2.4"/><circle cx="485.2" cy="20.8" r="2.4"/><circle cx="485.5" cy="20.2" r="2.4"/><circle cx="485.8" cy="15.7" r="2.4"/><circle cx="486" cy="19.4" r="2.4"/><circle cx="486.2" cy="28.7" r="2.4"/><circle cx="486.5" cy="17.2" r="2.4"/><circle cx="486.8" cy="14.8" r="2.4"/><circle cx="487" cy="22.1" r="2.4"/><circle cx="487.2" cy="23.3" r="2.4"/><circle cx="487.5" cy="22.8" r="2.4"/><circle cx="487.8" cy="16.8" r="2.4"/><circle cx="488" cy="24.7" r="2.4"/><circle cx="488.2" cy="18" r="2.4"/><circle cx="488.5" cy="16.7" r="2.4"/><circle cx="488.8" cy="18.6" r="2.4"/><circle cx="489" cy="20.5" r="2.4"/><circle cx="489.2" cy="23.6" r="2.4"/><circle cx="489.5" cy="23.2" r="2.4"/><circle cx="489.8" cy="20.7" r="2.4"/><circle cx="490" cy="24.3" r="2.4"/><circle cx="490.2" cy="21.1" r="2.4"/><circle cx="490.5" cy="24.1" r="2.4"/><circle cx="490.8" cy="15.5" r="2.4"/><circle cx="491" cy="14.8" r="2.4"/><circle cx="491.2" cy="23.6" r="2.4"/><circle cx="491.5" cy="15.4" r="2.4"/><circle cx="491.8" cy="19.5" r="2.4"/><circle cx="492" cy="20.3" r="2.4"/><circle cx="492.2" cy="18.8" r="2.4"/><circle cx="492.5" cy="18.9" r="2.4"/><circle cx="492.8" cy="25.8" r="2.4"/><circle cx="493" cy="11" r="2.4"/><circle cx="493.2" cy="23.9" r="2.4"/><circle cx="493.5" cy="29.2" r="2.4"/><circle cx="493.8" cy="20.6" r="2.4"/><circle cx="494" cy="20.4" r="2.4"/><circle cx="494.2" cy="23.2" r="2.4"/><circle cx="494.5" cy="27.3" r="2.4"/><circle cx="494.8" cy="15.9" r="2.4"/><circle cx="495" cy="20.7" r="2.4"/><circle cx="495.2" cy="19.7" r="2.4"/><circle cx="495.5" cy="22.5" r="2.4"/><circle cx="495.8" cy="20.9" r="2.4"/><circle cx="496" cy="22.8" r="2.4"/><circle cx="496.2" cy="18.7" r="2.4"/><circle cx="496.5" cy="20.5" r="2.4"/><circle cx="496.8" cy="17.7" r="2.4"/><circle cx="497" cy="17.7" r="2.4"/><circle cx="497.2" cy="19.7" r="2.4"/><circle cx="497.5" cy="19.7" r="2.4"/><circle cx="497.8" cy="15.8" r="2.4"/><circle cx="498" cy="26.1" r="2.4"/><circle cx="498.2" cy="19.6" r="2.4"/><circle cx="498.5" cy="14.9" r="2.4"/><circle cx="498.8" cy="24.3" r="2.4"/><circle cx="499" cy="17.3" r="2.4"/><circle cx="499.2" cy="22" r="2.4"/><circle cx="499.5" cy="20" r="2.4"/><circle cx="499.8" cy="21" r="2.4"/><circle cx="500" cy="20.7" r="2.4"/><circle cx="500.2" cy="17.8" r="2.4"/><circle cx="500.5" cy="20.1" r="2.4"/><circle cx="500.8" cy="27.6" r="2.4"/><circle cx="501" cy="11.5" r="2.4"/><circle cx="501.2" cy="20.2" r="2.4"/><circle cx="501.5" cy="21.5" r="2.4"/><circle cx="501.8" cy="15.9" r="2.4"/><circle cx="502" cy="14.7" r="2.4"/><circle cx="502.2" cy="28" r="2.4"/><circle cx="502.5" cy="18.4" r="2.4"/><circle cx="502.8" cy="27.7" r="2.4"/><circle cx="503" cy="21.8" r="2.4"/><circle cx="503.2" cy="20.1" r="2.4"/><circle cx="503.5" cy="21.6" r="2.4"/><circle cx="503.8" cy="22.2" r="2.4"/><circle cx="504" cy="24.2" r="2.4"/><circle cx="504.2" cy="21.4" r="2.4"/><circle cx="504.5" cy="20.3" r="2.4"/><circle cx="504.8" cy="20.4" r="2.4"/><circle cx="505" cy="24.8" r="2.4"/><circle cx="505.2" cy="22.8" r="2.4"/><circle cx="505.5" cy="15.9" r="2.4"/><circle cx="505.8" cy="17.2" r="2.4"/><circle cx="506" cy="20.9" r="2.4"/><circle cx="506.2" cy="17.3" r="2.4"/></g>
<path d="M65.5 336.3 L67.5 336.3 L69.5 336.2 L71.5 336.2 L73.5 336.1 L75.5 336 L77.5 335.9 L79.5 335.8 L81.5 335.7 L83.5 335.5 L85.5 335.4 L87.5 335.2 L89.5 334.9 L91.5 334.7 L93.5 334.4 L95.5 334.1 L97.5 333.8 L99.5 333.4 L101.5 333.1 L103.5 332.6 L105.5 332.2 L107.5 331.7 L109.5 331.2 L111.5 330.7 L113.5 330.1 L115.5 329.5 L117.5 328.9 L119.5 328.2 L121.5 327.5 L123.5 326.8 L125.5 326 L127.5 325.2 L129.5 324.3 L131.5 323.4 L133.5 322.5 L135.5 321.5 L137.5 320.5 L139.5 319.5 L141.5 318.4 L143.5 317.3 L145.5 316.2 L147.5 315.1 L149.5 313.9 L151.5 312.7 L153.5 311.5 L155.5 310.2 L157.5 309 L159.5 307.7 L161.5 306.4 L163.5 305.1 L165.5 303.7 L167.5 302.3 L169.5 300.9 L171.5 299.4 L173.5 297.8 L175.5 296.2 L177.5 294.5 L179.5 292.6 L181.5 290.7 L183.5 288.7 L185.5 286.7 L187.5 284.5 L189.5 282.3 L191.5 280 L193.5 277.7 L195.5 275.3 L197.5 272.9 L199.5 270.5 L201.5 268.1 L203.5 265.6 L205.5 263.2 L207.5 260.7 L209.5 258.2 L211.5 255.8 L213.5 253.3 L215.5 250.8 L217.5 248.3 L219.5 245.7 L221.5 243.2 L223.5 240.6 L225.5 238.1 L227.5 235.5 L229.5 232.8 L231.5 230.2 L233.5 227.5 L235.5 224.9 L237.5 222.2 L239.5 219.5 L241.5 216.8 L243.5 214.1 L245.5 211.3 L247.5 208.6 L249.5 205.8 L251.5 203.1 L253.5 200.3 L255.5 197.5 L257.5 194.7 L259.5 192 L261.5 189.2 L263.5 186.4 L265.5 183.6 L267.5 180.8 L269.5 178.1 L271.5 175.3 L273.5 172.5 L275.5 169.8 L277.5 167 L279.5 164.3 L281.5 161.5 L283.5 158.8 L285.5 156.1 L287.5 153.4 L289.5 150.7 L291.5 148 L293.5 145.4 L295.5 142.7 L297.5 140.1 L299.5 137.5 L301.5 135 L303.5 132.4 L305.5 129.9 L307.5 127.4 L309.5 124.9 L311.5 122.4 L313.5 120 L315.5 117.5 L317.5 115.2 L319.5 112.8 L321.5 110.5 L323.5 108.2 L325.5 105.9 L327.5 103.6 L329.5 101.4 L331.5 99.2 L333.5 97.1 L335.5 95 L337.5 92.9 L339.5 90.8 L341.5 88.8 L343.5 86.8 L345.5 84.9 L347.5 82.9 L349.5 81 L351.5 79.2 L353.5 77.4 L355.5 75.6 L357.5 73.8 L359.5 72.1 L361.5 70.4 L363.5 68.8 L365.5 67.1 L367.5 65.6 L369.5 64 L371.5 62.5 L373.5 61 L375.5 59.6 L377.5 58.2 L379.5 56.8 L381.5 55.4 L383.5 54.1 L385.5 52.8 L387.5 51.6 L389.5 50.4 L391.5 49.2 L393.5 48 L395.5 46.9 L397.5 45.8 L399.5 44.8 L401.5 43.7 L403.5 42.7 L405.5 41.8 L407.5 40.8 L409.5 39.9 L411.5 39 L413.5 38.2 L415.5 37.3 L417.5 36.5 L419.5 35.8 L421.5 35 L423.5 34.3 L425.5 33.6 L427.5 32.9 L429.5 32.2 L431.5 31.6 L433.5 31 L435.5 30.4 L437.5 29.8 L439.5 29.3 L441.5 28.7 L443.5 28.2 L445.5 27.7 L447.5 27.3 L449.5 26.8 L451.5 26.4 L453.5 26 L455.5 25.6 L457.5 25.2 L459.5 24.8 L461.5 24.5 L463.5 24.1 L465.5 23.8 L467.5 23.5 L469.5 23.2 L471.5 22.9 L473.5 22.6 L475.5 22.4 L477.5 22.1 L479.5 21.9 L481.5 21.7 L483.5 21.4 L485.5 21.2 L487.5 21 L489.5 20.9 L491.5 20.7 L493.5 20.5 L495.5 20.3 L497.5 20.2 L499.5 20 L501.5 19.9 L503.5 19.8 L505.5 19.7 L507.5 19.5" fill="none" stroke="#000" stroke-width="2.4"/>
<g fill="#46aa41" stroke="#082a08" stroke-width="1.15"><circle cx="66.8" cy="333.2" r="2.4"/><circle cx="65.8" cy="333" r="2.4"/><circle cx="66" cy="332.9" r="2.4"/><circle cx="68.9" cy="333.3" r="2.4"/><circle cx="67" cy="332.9" r="2.4"/><circle cx="68.4" cy="333.6" r="2.4"/><circle cx="67.3" cy="333.4" r="2.4"/><circle cx="69.4" cy="333.3" r="2.4"/><circle cx="68.4" cy="332.3" r="2.4"/><circle cx="67.8" cy="331.9" r="2.4"/><circle cx="69.2" cy="331.9" r="2.4"/><circle cx="70.1" cy="332.4" r="2.4"/><circle cx="69.9" cy="333.4" r="2.4"/><circle cx="69.8" cy="331.4" r="2.4"/><circle cx="70.8" cy="333.3" r="2.4"/><circle cx="70.5" cy="332.2" r="2.4"/><circle cx="70.4" cy="332.6" r="2.4"/><circle cx="70.7" cy="334.1" r="2.4"/><circle cx="72.9" cy="333.2" r="2.4"/><circle cx="72.1" cy="332.8" r="2.4"/><circle cx="72.6" cy="333.3" r="2.4"/><circle cx="72.9" cy="332.3" r="2.4"/><circle cx="71.4" cy="334.2" r="2.4"/><circle cx="73.5" cy="333.8" r="2.4"/><circle cx="75.9" cy="332.7" r="2.4"/><circle cx="72.7" cy="333.7" r="2.4"/><circle cx="74.9" cy="333.2" r="2.4"/><circle cx="75.4" cy="333" r="2.4"/><circle cx="75.6" cy="333.1" r="2.4"/><circle cx="74.5" cy="334.2" r="2.4"/><circle cx="75" cy="333.2" r="2.4"/><circle cx="74.5" cy="333.1" r="2.4"/><circle cx="75.9" cy="332.6" r="2.4"/><circle cx="77.7" cy="333.7" r="2.4"/><circle cx="75.8" cy="332" r="2.4"/><circle cx="74.8" cy="333.4" r="2.4"/><circle cx="77.2" cy="332.5" r="2.4"/><circle cx="78.4" cy="333.8" r="2.4"/><circle cx="77.5" cy="332.5" r="2.4"/><circle cx="79.9" cy="332.5" r="2.4"/><circle cx="78.2" cy="332.3" r="2.4"/><circle cx="78.7" cy="332.8" r="2.4"/><circle cx="77.9" cy="332.3" r="2.4"/><circle cx="78.9" cy="332.4" r="2.4"/><circle cx="80.4" cy="333.2" r="2.4"/><circle cx="80.7" cy="332.2" r="2.4"/><circle cx="81.5" cy="331.9" r="2.4"/><circle cx="81.2" cy="332.1" r="2.4"/><circle cx="81.3" cy="331" r="2.4"/><circle cx="79" cy="330.6" r="2.4"/><circle cx="80.5" cy="331.6" r="2.4"/><circle cx="84.3" cy="331.9" r="2.4"/><circle cx="81.4" cy="331" r="2.4"/><circle cx="82.9" cy="331.7" r="2.4"/><circle cx="82.5" cy="331.4" r="2.4"/><circle cx="83.6" cy="331.9" r="2.4"/><circle cx="83.2" cy="330.5" r="2.4"/><circle cx="82.4" cy="331.3" r="2.4"/><circle cx="83" cy="331.3" r="2.4"/><circle cx="84.4" cy="331.8" r="2.4"/><circle cx="83.8" cy="331" r="2.4"/><circle cx="82.6" cy="330.8" r="2.4"/><circle cx="85.5" cy="329.9" r="2.4"/><circle cx="86.3" cy="329" r="2.4"/><circle cx="86.5" cy="329.2" r="2.4"/><circle cx="86.9" cy="329.8" r="2.4"/><circle cx="84.6" cy="330.5" r="2.4"/><circle cx="88.2" cy="331.2" r="2.4"/><circle cx="86.6" cy="330.1" r="2.4"/><circle cx="86.1" cy="329.9" r="2.4"/><circle cx="86.9" cy="330.8" r="2.4"/><circle cx="86.9" cy="329.8" r="2.4"/><circle cx="86.7" cy="329.3" r="2.4"/><circle cx="88.2" cy="330.7" r="2.4"/><circle cx="88.7" cy="330.3" r="2.4"/><circle cx="88.6" cy="328.9" r="2.4"/><circle cx="89.3" cy="328.9" r="2.4"/><circle cx="89.3" cy="329" r="2.4"/><circle cx="89" cy="328.1" r="2.4"/><circle cx="89.5" cy="330.4" r="2.4"/><circle cx="90.9" cy="328.1" r="2.4"/><circle cx="89.2" cy="330" r="2.4"/><circle cx="90.4" cy="328.6" r="2.4"/><circle cx="92.2" cy="327.2" r="2.4"/><circle cx="91.8" cy="328.5" r="2.4"/><circle cx="92.5" cy="327.8" r="2.4"/><circle cx="92.1" cy="327.8" r="2.4"/><circle cx="91.3" cy="327.3" r="2.4"/><circle cx="92.3" cy="329.1" r="2.4"/><circle cx="93.2" cy="328.1" r="2.4"/><circle cx="92.9" cy="327.4" r="2.4"/><circle cx="93.5" cy="328.1" r="2.4"/><circle cx="94.1" cy="327.4" r="2.4"/><circle cx="95.1" cy="328.3" r="2.4"/><circle cx="94.1" cy="327.5" r="2.4"/><circle cx="96" cy="325.9" r="2.4"/><circle cx="95.1" cy="327.7" r="2.4"/><circle cx="96.5" cy="327.2" r="2.4"/><circle cx="96.9" cy="327.3" r="2.4"/><circle cx="97.9" cy="326.1" r="2.4"/><circle cx="97.4" cy="325.3" r="2.4"/><circle cx="97.8" cy="326.6" r="2.4"/><circle cx="98.7" cy="327.6" r="2.4"/><circle cx="95.5" cy="324.9" r="2.4"/><circle cx="96.6" cy="326.4" r="2.4"/><circle cx="98.9" cy="325.6" r="2.4"/><circle cx="96" cy="324" r="2.4"/><circle cx="98.6" cy="325.5" r="2.4"/><circle cx="98.9" cy="324.9" r="2.4"/><circle cx="97.5" cy="324.2" r="2.4"/><circle cx="98.4" cy="324.7" r="2.4"/><circle cx="100.4" cy="323.2" r="2.4"/><circle cx="100.5" cy="324.4" r="2.4"/><circle cx="99.7" cy="323.5" r="2.4"/><circle cx="99.7" cy="323.3" r="2.4"/><circle cx="100.1" cy="324.1" r="2.4"/><circle cx="101.7" cy="324.1" r="2.4"/><circle cx="100.1" cy="325.4" r="2.4"/><circle cx="101.8" cy="324.3" r="2.4"/><circle cx="100.6" cy="323.3" r="2.4"/><circle cx="103.3" cy="322.7" r="2.4"/><circle cx="102.9" cy="322.9" r="2.4"/><circle cx="104.4" cy="322.6" r="2.4"/><circle cx="101" cy="322.6" r="2.4"/><circle cx="101.5" cy="321.9" r="2.4"/><circle cx="103.4" cy="319.4" r="2.4"/><circle cx="104.4" cy="323.3" r="2.4"/><circle cx="103.6" cy="320.9" r="2.4"/><circle cx="105.1" cy="322.8" r="2.4"/><circle cx="105.1" cy="321.7" r="2.4"/><circle cx="106.4" cy="321.5" r="2.4"/><circle cx="106" cy="321.8" r="2.4"/><circle cx="106.7" cy="320.2" r="2.4"/><circle cx="107.6" cy="320.3" r="2.4"/><circle cx="106.5" cy="319.6" r="2.4"/><circle cx="105.5" cy="320.6" r="2.4"/><circle cx="108.9" cy="322" r="2.4"/><circle cx="108.4" cy="319.8" r="2.4"/><circle cx="105" cy="320.4" r="2.4"/><circle cx="108.1" cy="320.1" r="2.4"/><circle cx="107.3" cy="319.7" r="2.4"/><circle cx="108.6" cy="319.2" r="2.4"/><circle cx="109.5" cy="320.4" r="2.4"/><circle cx="111.1" cy="319.1" r="2.4"/><circle cx="109.3" cy="318.4" r="2.4"/><circle cx="111.7" cy="317" r="2.4"/><circle cx="111.3" cy="319.4" r="2.4"/><circle cx="110.7" cy="318.9" r="2.4"/><circle cx="110.6" cy="318.3" r="2.4"/><circle cx="111.3" cy="317.7" r="2.4"/><circle cx="112.1" cy="319.1" r="2.4"/><circle cx="111.2" cy="317.4" r="2.4"/><circle cx="113.9" cy="316.7" r="2.4"/><circle cx="112.5" cy="317.6" r="2.4"/><circle cx="111.5" cy="316.5" r="2.4"/><circle cx="114" cy="316.6" r="2.4"/><circle cx="113.1" cy="316.1" r="2.4"/><circle cx="113.7" cy="316" r="2.4"/><circle cx="113.6" cy="314.5" r="2.4"/><circle cx="115.2" cy="315" r="2.4"/><circle cx="115.1" cy="314.8" r="2.4"/><circle cx="114.5" cy="316.8" r="2.4"/><circle cx="115.3" cy="314.5" r="2.4"/><circle cx="114.3" cy="314.9" r="2.4"/><circle cx="117.9" cy="315.1" r="2.4"/><circle cx="115.8" cy="314.1" r="2.4"/><circle cx="116.7" cy="313.1" r="2.4"/><circle cx="115.4" cy="312.6" r="2.4"/><circle cx="115.9" cy="314.9" r="2.4"/><circle cx="118.9" cy="314.4" r="2.4"/><circle cx="118.1" cy="313.3" r="2.4"/><circle cx="117.6" cy="314.7" r="2.4"/><circle cx="116.6" cy="311.8" r="2.4"/><circle cx="120" cy="312.1" r="2.4"/><circle cx="117.7" cy="312.7" r="2.4"/><circle cx="118.4" cy="310.5" r="2.4"/><circle cx="119.1" cy="311.3" r="2.4"/><circle cx="119.9" cy="310.8" r="2.4"/><circle cx="119.9" cy="309.9" r="2.4"/><circle cx="120.1" cy="310.1" r="2.4"/><circle cx="122.6" cy="310" r="2.4"/><circle cx="120.9" cy="309.7" r="2.4"/><circle cx="121.5" cy="306.8" r="2.4"/><circle cx="119.9" cy="306.1" r="2.4"/><circle cx="122.5" cy="308.7" r="2.4"/><circle cx="120.1" cy="307.2" r="2.4"/><circle cx="121.6" cy="306.6" r="2.4"/><circle cx="125.1" cy="307.2" r="2.4"/><circle cx="122" cy="306.3" r="2.4"/><circle cx="123.1" cy="304.4" r="2.4"/><circle cx="122.2" cy="305" r="2.4"/><circle cx="122.5" cy="304.9" r="2.4"/><circle cx="125.3" cy="305.6" r="2.4"/><circle cx="123.9" cy="305.1" r="2.4"/><circle cx="124.6" cy="304.1" r="2.4"/><circle cx="124.6" cy="302.6" r="2.4"/><circle cx="123.7" cy="301.1" r="2.4"/><circle cx="125.4" cy="303.1" r="2.4"/><circle cx="127" cy="302" r="2.4"/><circle cx="125.3" cy="299.3" r="2.4"/><circle cx="126.9" cy="301.1" r="2.4"/><circle cx="127.9" cy="300" r="2.4"/><circle cx="125.8" cy="300.2" r="2.4"/><circle cx="128.3" cy="298.5" r="2.4"/><circle cx="125.6" cy="299.7" r="2.4"/><circle cx="128.7" cy="300.3" r="2.4"/><circle cx="127.9" cy="299.9" r="2.4"/><circle cx="127.4" cy="297.4" r="2.4"/><circle cx="128.7" cy="300.4" r="2.4"/><circle cx="128.5" cy="298.8" r="2.4"/><circle cx="127.7" cy="296.6" r="2.4"/><circle cx="130.9" cy="295.5" r="2.4"/><circle cx="131.3" cy="294" r="2.4"/><circle cx="129.3" cy="295.5" r="2.4"/><circle cx="130.2" cy="294" r="2.4"/><circle cx="130.4" cy="294.1" r="2.4"/><circle cx="131" cy="292.6" r="2.4"/><circle cx="130.2" cy="291.9" r="2.4"/><circle cx="132.9" cy="292.7" r="2.4"/><circle cx="132.2" cy="290.3" r="2.4"/><circle cx="131.4" cy="291" r="2.4"/><circle cx="132.2" cy="292.5" r="2.4"/><circle cx="132.2" cy="292.8" r="2.4"/><circle cx="133.1" cy="290.9" r="2.4"/><circle cx="134.3" cy="288.9" r="2.4"/><circle cx="134.7" cy="289.2" r="2.4"/><circle cx="133.1" cy="288.9" r="2.4"/><circle cx="134.7" cy="288.4" r="2.4"/><circle cx="133.9" cy="289.3" r="2.4"/><circle cx="133.3" cy="287.5" r="2.4"/><circle cx="134.3" cy="287.9" r="2.4"/><circle cx="135.7" cy="284.1" r="2.4"/><circle cx="134.4" cy="287.6" r="2.4"/><circle cx="135.6" cy="284.1" r="2.4"/><circle cx="137.1" cy="283.6" r="2.4"/><circle cx="136.2" cy="283.5" r="2.4"/><circle cx="136.5" cy="284.9" r="2.4"/><circle cx="136.5" cy="284.3" r="2.4"/><circle cx="135.9" cy="281.5" r="2.4"/><circle cx="137.8" cy="285.3" r="2.4"/><circle cx="138.5" cy="282.5" r="2.4"/><circle cx="138.9" cy="281.9" r="2.4"/><circle cx="138" cy="283.9" r="2.4"/><circle cx="138.3" cy="278.5" r="2.4"/><circle cx="140.5" cy="278.3" r="2.4"/><circle cx="138.9" cy="280.9" r="2.4"/><circle cx="139.9" cy="277.2" r="2.4"/><circle cx="137.5" cy="280.8" r="2.4"/><circle cx="139.7" cy="279.1" r="2.4"/><circle cx="140" cy="279.3" r="2.4"/><circle cx="139.8" cy="276.9" r="2.4"/><circle cx="143.3" cy="275.4" r="2.4"/><circle cx="141.7" cy="277.6" r="2.4"/><circle cx="140.3" cy="274.5" r="2.4"/><circle cx="142.7" cy="274.8" r="2.4"/><circle cx="142.9" cy="274.7" r="2.4"/><circle cx="143.2" cy="272.7" r="2.4"/><circle cx="145" cy="273.8" r="2.4"/><circle cx="143.7" cy="276.2" r="2.4"/><circle cx="144.1" cy="271.7" r="2.4"/><circle cx="143.7" cy="271.4" r="2.4"/><circle cx="143.7" cy="271.8" r="2.4"/><circle cx="145" cy="272.3" r="2.4"/><circle cx="145.2" cy="271.2" r="2.4"/><circle cx="144.7" cy="269.2" r="2.4"/><circle cx="145.4" cy="269.4" r="2.4"/><circle cx="146.3" cy="269.6" r="2.4"/><circle cx="146.7" cy="266.6" r="2.4"/><circle cx="146.2" cy="266.1" r="2.4"/><circle cx="144.9" cy="267.2" r="2.4"/><circle cx="147.7" cy="267.3" r="2.4"/><circle cx="147.3" cy="266.4" r="2.4"/><circle cx="147" cy="265.5" r="2.4"/><circle cx="147.8" cy="265.1" r="2.4"/><circle cx="147.4" cy="265.1" r="2.4"/><circle cx="149.2" cy="264.8" r="2.4"/><circle cx="148.8" cy="263.6" r="2.4"/><circle cx="147.8" cy="264.2" r="2.4"/><circle cx="150.2" cy="263.5" r="2.4"/><circle cx="150.6" cy="262.6" r="2.4"/><circle cx="150.2" cy="260.5" r="2.4"/><circle cx="151.3" cy="262.1" r="2.4"/><circle cx="149.4" cy="260.8" r="2.4"/><circle cx="152.7" cy="260.7" r="2.4"/><circle cx="152" cy="260.9" r="2.4"/><circle cx="153" cy="255.9" r="2.4"/><circle cx="149.5" cy="257.7" r="2.4"/><circle cx="151" cy="258" r="2.4"/><circle cx="152.2" cy="254.5" r="2.4"/><circle cx="152.8" cy="258.4" r="2.4"/><circle cx="155.4" cy="256" r="2.4"/><circle cx="153.7" cy="257.7" r="2.4"/><circle cx="152.7" cy="253.8" r="2.4"/><circle cx="154.9" cy="252.3" r="2.4"/><circle cx="154.8" cy="253.6" r="2.4"/><circle cx="154.2" cy="254" r="2.4"/><circle cx="156.1" cy="251.5" r="2.4"/><circle cx="156.8" cy="252" r="2.4"/><circle cx="155.6" cy="251" r="2.4"/><circle cx="155.1" cy="250.2" r="2.4"/><circle cx="157.1" cy="245.9" r="2.4"/><circle cx="157.1" cy="248.1" r="2.4"/><circle cx="156.7" cy="244.4" r="2.4"/><circle cx="156.4" cy="245.7" r="2.4"/><circle cx="157.3" cy="241.9" r="2.4"/><circle cx="158.4" cy="247.2" r="2.4"/><circle cx="158.3" cy="243.6" r="2.4"/><circle cx="155.6" cy="245.5" r="2.4"/><circle cx="159.5" cy="243.1" r="2.4"/><circle cx="161.1" cy="244" r="2.4"/><circle cx="159.8" cy="244.2" r="2.4"/><circle cx="160.7" cy="241.8" r="2.4"/><circle cx="160.1" cy="239.5" r="2.4"/><circle cx="162.6" cy="241.6" r="2.4"/><circle cx="160.6" cy="238.8" r="2.4"/><circle cx="162.5" cy="238.8" r="2.4"/><circle cx="162.9" cy="237.6" r="2.4"/><circle cx="161.4" cy="235" r="2.4"/><circle cx="162.8" cy="235.8" r="2.4"/><circle cx="160.5" cy="237.6" r="2.4"/><circle cx="162.9" cy="232.9" r="2.4"/><circle cx="161.1" cy="232.7" r="2.4"/><circle cx="163.6" cy="235.4" r="2.4"/><circle cx="162.9" cy="233.6" r="2.4"/><circle cx="163.4" cy="233.9" r="2.4"/><circle cx="163" cy="233.4" r="2.4"/><circle cx="164.5" cy="228.5" r="2.4"/><circle cx="165.3" cy="228.1" r="2.4"/><circle cx="163.9" cy="229.4" r="2.4"/><circle cx="164.8" cy="228.3" r="2.4"/><circle cx="164.8" cy="229.3" r="2.4"/><circle cx="167.1" cy="225.7" r="2.4"/><circle cx="168.3" cy="230.7" r="2.4"/><circle cx="166.6" cy="225.3" r="2.4"/><circle cx="166.6" cy="227.8" r="2.4"/><circle cx="167.1" cy="221.6" r="2.4"/><circle cx="166.4" cy="223.9" r="2.4"/><circle cx="166" cy="218.6" r="2.4"/><circle cx="167.1" cy="222.9" r="2.4"/><circle cx="168.4" cy="220.4" r="2.4"/><circle cx="168.1" cy="221.4" r="2.4"/><circle cx="167.8" cy="220.4" r="2.4"/><circle cx="168" cy="217.7" r="2.4"/><circle cx="169.4" cy="220.3" r="2.4"/><circle cx="169.3" cy="215.4" r="2.4"/><circle cx="170.8" cy="215.8" r="2.4"/><circle cx="169.2" cy="211.9" r="2.4"/><circle cx="173.4" cy="214" r="2.4"/><circle cx="170.8" cy="216.3" r="2.4"/><circle cx="173.5" cy="215" r="2.4"/><circle cx="171.1" cy="212.1" r="2.4"/><circle cx="172.3" cy="214.7" r="2.4"/><circle cx="171.5" cy="212.7" r="2.4"/><circle cx="174.3" cy="214.9" r="2.4"/><circle cx="173.5" cy="211" r="2.4"/><circle cx="173.7" cy="204.1" r="2.4"/><circle cx="173.8" cy="207.7" r="2.4"/><circle cx="173.2" cy="209" r="2.4"/><circle cx="174.3" cy="202.6" r="2.4"/><circle cx="173.8" cy="204.1" r="2.4"/><circle cx="174.1" cy="203.7" r="2.4"/><circle cx="176.1" cy="198.7" r="2.4"/><circle cx="176.3" cy="204.2" r="2.4"/><circle cx="175.4" cy="207.7" r="2.4"/><circle cx="174.7" cy="197.6" r="2.4"/><circle cx="175.4" cy="198.3" r="2.4"/><circle cx="174.1" cy="200.7" r="2.4"/><circle cx="174.9" cy="200.6" r="2.4"/><circle cx="176.8" cy="199.7" r="2.4"/><circle cx="177.1" cy="197.4" r="2.4"/><circle cx="176.8" cy="196.1" r="2.4"/><circle cx="177.8" cy="192.4" r="2.4"/><circle cx="180.3" cy="200.6" r="2.4"/><circle cx="179.2" cy="198.5" r="2.4"/><circle cx="180.3" cy="192.6" r="2.4"/><circle cx="178.9" cy="193.3" r="2.4"/><circle cx="179.4" cy="191.9" r="2.4"/><circle cx="179.5" cy="190.8" r="2.4"/><circle cx="179.5" cy="188.3" r="2.4"/><circle cx="180.1" cy="196.3" r="2.4"/><circle cx="181.1" cy="188.8" r="2.4"/><circle cx="179.6" cy="190.5" r="2.4"/><circle cx="182.1" cy="187.3" r="2.4"/><circle cx="181.5" cy="187.7" r="2.4"/><circle cx="181" cy="190.3" r="2.4"/><circle cx="181.4" cy="185.6" r="2.4"/><circle cx="180.2" cy="188.5" r="2.4"/><circle cx="182" cy="181.9" r="2.4"/><circle cx="183.6" cy="184.6" r="2.4"/><circle cx="181.5" cy="185.8" r="2.4"/><circle cx="183.2" cy="183.2" r="2.4"/><circle cx="184.4" cy="178.5" r="2.4"/><circle cx="181.8" cy="176.9" r="2.4"/><circle cx="182.8" cy="177.5" r="2.4"/><circle cx="185.1" cy="175.9" r="2.4"/><circle cx="186.7" cy="177.7" r="2.4"/><circle cx="183.6" cy="175.3" r="2.4"/><circle cx="184.6" cy="172.8" r="2.4"/><circle cx="186.4" cy="170.6" r="2.4"/><circle cx="184" cy="171.3" r="2.4"/><circle cx="186.4" cy="174.2" r="2.4"/><circle cx="186.9" cy="172.3" r="2.4"/><circle cx="187.1" cy="172.1" r="2.4"/><circle cx="187.9" cy="172.9" r="2.4"/><circle cx="188.2" cy="169.5" r="2.4"/><circle cx="187.8" cy="163.2" r="2.4"/><circle cx="188.5" cy="165.7" r="2.4"/><circle cx="190.4" cy="161.5" r="2.4"/><circle cx="187.6" cy="164.8" r="2.4"/><circle cx="188.9" cy="158.4" r="2.4"/><circle cx="188.7" cy="162.3" r="2.4"/><circle cx="189.1" cy="161.8" r="2.4"/><circle cx="189.3" cy="162.2" r="2.4"/><circle cx="191.5" cy="159.5" r="2.4"/><circle cx="189.6" cy="166.4" r="2.4"/><circle cx="190.1" cy="156.2" r="2.4"/><circle cx="190" cy="159" r="2.4"/><circle cx="191.6" cy="154.2" r="2.4"/><circle cx="190.8" cy="151.6" r="2.4"/><circle cx="189.9" cy="152.2" r="2.4"/><circle cx="192" cy="148.2" r="2.4"/><circle cx="192.6" cy="152.2" r="2.4"/><circle cx="192.6" cy="145.2" r="2.4"/><circle cx="194" cy="152.3" r="2.4"/><circle cx="192.7" cy="148.6" r="2.4"/><circle cx="193.4" cy="149.9" r="2.4"/><circle cx="193.4" cy="143.2" r="2.4"/><circle cx="194.8" cy="150.6" r="2.4"/><circle cx="194.4" cy="148.7" r="2.4"/><circle cx="194.5" cy="147.1" r="2.4"/><circle cx="198.2" cy="142.6" r="2.4"/><circle cx="195.2" cy="144.7" r="2.4"/><circle cx="196.5" cy="141" r="2.4"/><circle cx="195.9" cy="144.4" r="2.4"/><circle cx="196.4" cy="133.8" r="2.4"/><circle cx="197.1" cy="138.6" r="2.4"/><circle cx="197.6" cy="142" r="2.4"/><circle cx="196.4" cy="139.5" r="2.4"/><circle cx="200.2" cy="138.8" r="2.4"/><circle cx="198.5" cy="137.6" r="2.4"/><circle cx="200.5" cy="134.6" r="2.4"/><circle cx="198.7" cy="130.1" r="2.4"/><circle cx="199.9" cy="133.9" r="2.4"/><circle cx="199.7" cy="129.9" r="2.4"/><circle cx="199.8" cy="129.6" r="2.4"/><circle cx="198.7" cy="129.2" r="2.4"/><circle cx="201.3" cy="128.7" r="2.4"/><circle cx="200.3" cy="124.6" r="2.4"/><circle cx="199.7" cy="129.3" r="2.4"/><circle cx="200" cy="126.8" r="2.4"/><circle cx="204" cy="129.2" r="2.4"/><circle cx="201.6" cy="131.4" r="2.4"/><circle cx="202.2" cy="126.1" r="2.4"/><circle cx="204.1" cy="123" r="2.4"/><circle cx="203.9" cy="117.1" r="2.4"/><circle cx="204.5" cy="120.7" r="2.4"/><circle cx="202.6" cy="120.7" r="2.4"/><circle cx="204.4" cy="120.1" r="2.4"/><circle cx="204.4" cy="118.4" r="2.4"/><circle cx="201.9" cy="115.6" r="2.4"/><circle cx="205.3" cy="119.8" r="2.4"/><circle cx="204.9" cy="116.2" r="2.4"/><circle cx="204.6" cy="118.6" r="2.4"/><circle cx="205.2" cy="111.4" r="2.4"/><circle cx="204.2" cy="117.5" r="2.4"/><circle cx="205.3" cy="116.6" r="2.4"/><circle cx="207.7" cy="107.4" r="2.4"/><circle cx="205.2" cy="110.2" r="2.4"/><circle cx="207.9" cy="108.4" r="2.4"/><circle cx="206.7" cy="113.3" r="2.4"/><circle cx="208.3" cy="109.6" r="2.4"/><circle cx="208.2" cy="104.8" r="2.4"/><circle cx="207.5" cy="106.3" r="2.4"/><circle cx="208.5" cy="103.7" r="2.4"/><circle cx="208.1" cy="104.8" r="2.4"/><circle cx="210.2" cy="102.3" r="2.4"/><circle cx="210.3" cy="103.8" r="2.4"/><circle cx="210.2" cy="106.8" r="2.4"/><circle cx="209" cy="110" r="2.4"/><circle cx="209.9" cy="103.6" r="2.4"/><circle cx="212.4" cy="106.8" r="2.4"/><circle cx="209.7" cy="91.4" r="2.4"/><circle cx="212" cy="100.6" r="2.4"/><circle cx="211.3" cy="100.1" r="2.4"/><circle cx="212.4" cy="98.2" r="2.4"/><circle cx="213.1" cy="95.3" r="2.4"/><circle cx="213" cy="86" r="2.4"/><circle cx="213.7" cy="89.9" r="2.4"/><circle cx="211.9" cy="92.2" r="2.4"/><circle cx="212.2" cy="93.7" r="2.4"/><circle cx="211.8" cy="87.9" r="2.4"/><circle cx="214.3" cy="90.5" r="2.4"/><circle cx="213.9" cy="93.8" r="2.4"/><circle cx="214.4" cy="93.1" r="2.4"/><circle cx="215.3" cy="87.8" r="2.4"/><circle cx="214.6" cy="91.5" r="2.4"/><circle cx="215.1" cy="85.5" r="2.4"/><circle cx="214.6" cy="86" r="2.4"/><circle cx="215.5" cy="89" r="2.4"/><circle cx="215.3" cy="85.9" r="2.4"/><circle cx="216.9" cy="84.7" r="2.4"/><circle cx="219" cy="80.7" r="2.4"/><circle cx="219.1" cy="83.1" r="2.4"/><circle cx="216.7" cy="84.7" r="2.4"/><circle cx="218.2" cy="78.4" r="2.4"/><circle cx="218.1" cy="79.4" r="2.4"/><circle cx="216.3" cy="77.2" r="2.4"/><circle cx="216.2" cy="76.6" r="2.4"/><circle cx="218.1" cy="78.3" r="2.4"/><circle cx="219" cy="73" r="2.4"/><circle cx="217.9" cy="76.3" r="2.4"/><circle cx="218.6" cy="67.1" r="2.4"/><circle cx="219" cy="65.1" r="2.4"/><circle cx="219.2" cy="79.5" r="2.4"/><circle cx="219.2" cy="74.8" r="2.4"/><circle cx="220.6" cy="72.5" r="2.4"/><circle cx="221.9" cy="70.3" r="2.4"/><circle cx="221.8" cy="77.1" r="2.4"/><circle cx="220.8" cy="69.5" r="2.4"/><circle cx="221.9" cy="70.7" r="2.4"/><circle cx="222.5" cy="71" r="2.4"/><circle cx="220.6" cy="74.1" r="2.4"/><circle cx="224.1" cy="64.7" r="2.4"/><circle cx="222.5" cy="63.8" r="2.4"/><circle cx="222.2" cy="63.4" r="2.4"/><circle cx="226.7" cy="64.3" r="2.4"/><circle cx="223.1" cy="68" r="2.4"/><circle cx="224.2" cy="58.6" r="2.4"/><circle cx="224" cy="66" r="2.4"/><circle cx="226.2" cy="57.9" r="2.4"/><circle cx="225.1" cy="64" r="2.4"/><circle cx="224.1" cy="54.7" r="2.4"/><circle cx="223.6" cy="55.8" r="2.4"/><circle cx="225.7" cy="61.4" r="2.4"/><circle cx="228.8" cy="59.6" r="2.4"/><circle cx="225.7" cy="61.9" r="2.4"/><circle cx="228.6" cy="59.9" r="2.4"/><circle cx="226.6" cy="52.1" r="2.4"/><circle cx="226.1" cy="54.2" r="2.4"/><circle cx="225.6" cy="60.5" r="2.4"/><circle cx="228.2" cy="48.4" r="2.4"/><circle cx="229" cy="51.6" r="2.4"/><circle cx="228.9" cy="53.2" r="2.4"/><circle cx="227" cy="56.4" r="2.4"/><circle cx="228.9" cy="50.6" r="2.4"/><circle cx="230.2" cy="50.6" r="2.4"/><circle cx="229.6" cy="45.2" r="2.4"/><circle cx="231" cy="52.2" r="2.4"/><circle cx="233.1" cy="44.9" r="2.4"/><circle cx="229.6" cy="57.7" r="2.4"/><circle cx="234.3" cy="48.1" r="2.4"/><circle cx="232" cy="49.6" r="2.4"/><circle cx="231.5" cy="44.5" r="2.4"/><circle cx="231.8" cy="43.8" r="2.4"/><circle cx="232.3" cy="47.6" r="2.4"/><circle cx="231.7" cy="41.6" r="2.4"/><circle cx="232.3" cy="42.7" r="2.4"/><circle cx="234.7" cy="41.5" r="2.4"/><circle cx="234.5" cy="43.4" r="2.4"/><circle cx="234.3" cy="42.8" r="2.4"/><circle cx="234.2" cy="40" r="2.4"/><circle cx="233.6" cy="43.5" r="2.4"/><circle cx="235.1" cy="45.7" r="2.4"/><circle cx="234.9" cy="35.5" r="2.4"/><circle cx="235.9" cy="35.3" r="2.4"/><circle cx="237.3" cy="34.5" r="2.4"/><circle cx="233.8" cy="33.7" r="2.4"/><circle cx="234.4" cy="33.4" r="2.4"/><circle cx="238.1" cy="36.1" r="2.4"/><circle cx="235.7" cy="38.9" r="2.4"/><circle cx="239.5" cy="31.8" r="2.4"/><circle cx="237.8" cy="36.4" r="2.4"/><circle cx="240.8" cy="39.3" r="2.4"/><circle cx="238.6" cy="40" r="2.4"/><circle cx="239.4" cy="35.2" r="2.4"/><circle cx="237.8" cy="30.2" r="2.4"/><circle cx="238.3" cy="32.9" r="2.4"/><circle cx="239.7" cy="31.9" r="2.4"/><circle cx="239" cy="42.8" r="2.4"/><circle cx="240" cy="30.8" r="2.4"/><circle cx="241.7" cy="33" r="2.4"/><circle cx="239.9" cy="28.2" r="2.4"/><circle cx="240.1" cy="22.4" r="2.4"/><circle cx="241.5" cy="32.3" r="2.4"/><circle cx="241.3" cy="24.6" r="2.4"/><circle cx="242.6" cy="29.1" r="2.4"/><circle cx="242" cy="25.8" r="2.4"/><circle cx="241.3" cy="19.6" r="2.4"/><circle cx="240.5" cy="35.5" r="2.4"/><circle cx="243.4" cy="25.9" r="2.4"/><circle cx="242.6" cy="25.3" r="2.4"/><circle cx="243.8" cy="26.5" r="2.4"/><circle cx="242" cy="26" r="2.4"/><circle cx="243.5" cy="25.3" r="2.4"/><circle cx="244.9" cy="23" r="2.4"/><circle cx="246" cy="28.3" r="2.4"/><circle cx="246.3" cy="22.5" r="2.4"/><circle cx="246.9" cy="30.1" r="2.4"/><circle cx="245.7" cy="30.8" r="2.4"/><circle cx="247.1" cy="22.9" r="2.4"/><circle cx="246.7" cy="16.8" r="2.4"/><circle cx="246.4" cy="20.4" r="2.4"/><circle cx="246.1" cy="14.2" r="2.4"/><circle cx="248.4" cy="22.2" r="2.4"/><circle cx="247.6" cy="26.7" r="2.4"/><circle cx="247.1" cy="20.7" r="2.4"/><circle cx="248" cy="23.2" r="2.4"/><circle cx="250.5" cy="24" r="2.4"/><circle cx="247.3" cy="20.6" r="2.4"/><circle cx="247.6" cy="16.3" r="2.4"/><circle cx="250.9" cy="14.5" r="2.4"/><circle cx="248.1" cy="21.2" r="2.4"/><circle cx="251.5" cy="23.1" r="2.4"/><circle cx="249.7" cy="18" r="2.4"/><circle cx="251" cy="18" r="2.4"/><circle cx="252.3" cy="22.6" r="2.4"/><circle cx="252.6" cy="25.3" r="2.4"/><circle cx="252.3" cy="25.8" r="2.4"/><circle cx="251.8" cy="11.6" r="2.4"/><circle cx="251.8" cy="20.5" r="2.4"/><circle cx="252.1" cy="23.3" r="2.4"/><circle cx="254.4" cy="14.2" r="2.4"/><circle cx="253.3" cy="21.8" r="2.4"/><circle cx="254.6" cy="23" r="2.4"/><circle cx="251" cy="20" r="2.4"/><circle cx="253.5" cy="15" r="2.4"/><circle cx="254.5" cy="13.4" r="2.4"/><circle cx="254.1" cy="24" r="2.4"/><circle cx="257.1" cy="12.5" r="2.4"/><circle cx="253.8" cy="15.8" r="2.4"/><circle cx="256" cy="19.2" r="2.4"/><circle cx="256.7" cy="14.6" r="2.4"/><circle cx="255.1" cy="15.6" r="2.4"/><circle cx="257.2" cy="18.9" r="2.4"/><circle cx="257.1" cy="14.9" r="2.4"/><circle cx="260.1" cy="17.6" r="2.4"/><circle cx="258.8" cy="14.6" r="2.4"/><circle cx="257.5" cy="17.8" r="2.4"/><circle cx="258.9" cy="21.6" r="2.4"/><circle cx="258.6" cy="24.3" r="2.4"/><circle cx="257.9" cy="15.2" r="2.4"/><circle cx="259.4" cy="20.6" r="2.4"/><circle cx="259.6" cy="25" r="2.4"/><circle cx="261.1" cy="23.4" r="2.4"/><circle cx="258.1" cy="19" r="2.4"/><circle cx="258.4" cy="12.5" r="2.4"/><circle cx="259.4" cy="26.1" r="2.4"/><circle cx="261.2" cy="24.3" r="2.4"/><circle cx="262" cy="26.7" r="2.4"/><circle cx="261" cy="17.9" r="2.4"/><circle cx="261.7" cy="18.9" r="2.4"/><circle cx="261.8" cy="15.9" r="2.4"/><circle cx="260.2" cy="26.4" r="2.4"/><circle cx="261.4" cy="19.8" r="2.4"/><circle cx="263.6" cy="19.5" r="2.4"/><circle cx="263.9" cy="18.4" r="2.4"/><circle cx="264.5" cy="11" r="2.4"/><circle cx="264.3" cy="15.9" r="2.4"/><circle cx="261.1" cy="19.8" r="2.4"/></g>
<path d="M66.9 20.2H518" fill="none" stroke="#6e6e6e" stroke-width="1.6" stroke-dasharray="4.2 2.57"/>
<rect x="65.5" y="1" width="453.4" height="335.6" fill="none" stroke="#000" stroke-width="2"/>
<path d="M166.1 336V330.6M166.1 1V6.6M266.8 336V330.6M266.8 1V6.6M367.4 336V330.6M367.4 1V6.6M468 336V330.6M468 1V6.6M66 176.8h5.6M518 176.8h-5.6M66 17h5.6M518 17h-5.6M66 256.6h3.2M518 256.6h-3.2M66 96.9h3.2M518 96.9h-3.2" stroke="#000" stroke-width="1.6" fill="none"/>
<g font-size="20.8" fill="#000" text-anchor="middle">
<text x="65.5" y="358.5">0</text>
<text x="166.1" y="358.5">300</text>
<text x="266.8" y="358.5">600</text>
<text x="367.4" y="358.5">900</text>
<text x="468" y="358.5">1200</text>
<text x="292" y="380.3" font-size="21.1">time [s]</text>
</g>
<g font-size="20.8" fill="#000" text-anchor="end">
<text x="60" y="22.9">1.0</text>
<text x="60" y="182.6">0.5</text>
<text x="60" y="342.2">0.0</text>
</g>
<text transform="translate(15.1 166.4) rotate(-90)" font-size="21.2" text-anchor="middle" fill="#000">norm. intensity [1]</text>
<text x="102.9" y="43.1" font-size="20.5" fill="#7c7c7c">99% level</text>
<text x="91.4" y="139.3" font-size="21.1" fill="#186f3e">light cage</text>
<text x="321.9" y="139.4" font-size="21" fill="#126a62">capillary</text>
<text transform="translate(236.5 288) rotate(90)" font-size="20.5" text-anchor="middle" fill="#7c7c7c">500 s</text>
<text transform="translate(475.4 288.6) rotate(90)" font-size="20.5" text-anchor="middle" fill="#7c7c7c">1280 s</text>
</svg>
</body></html>
